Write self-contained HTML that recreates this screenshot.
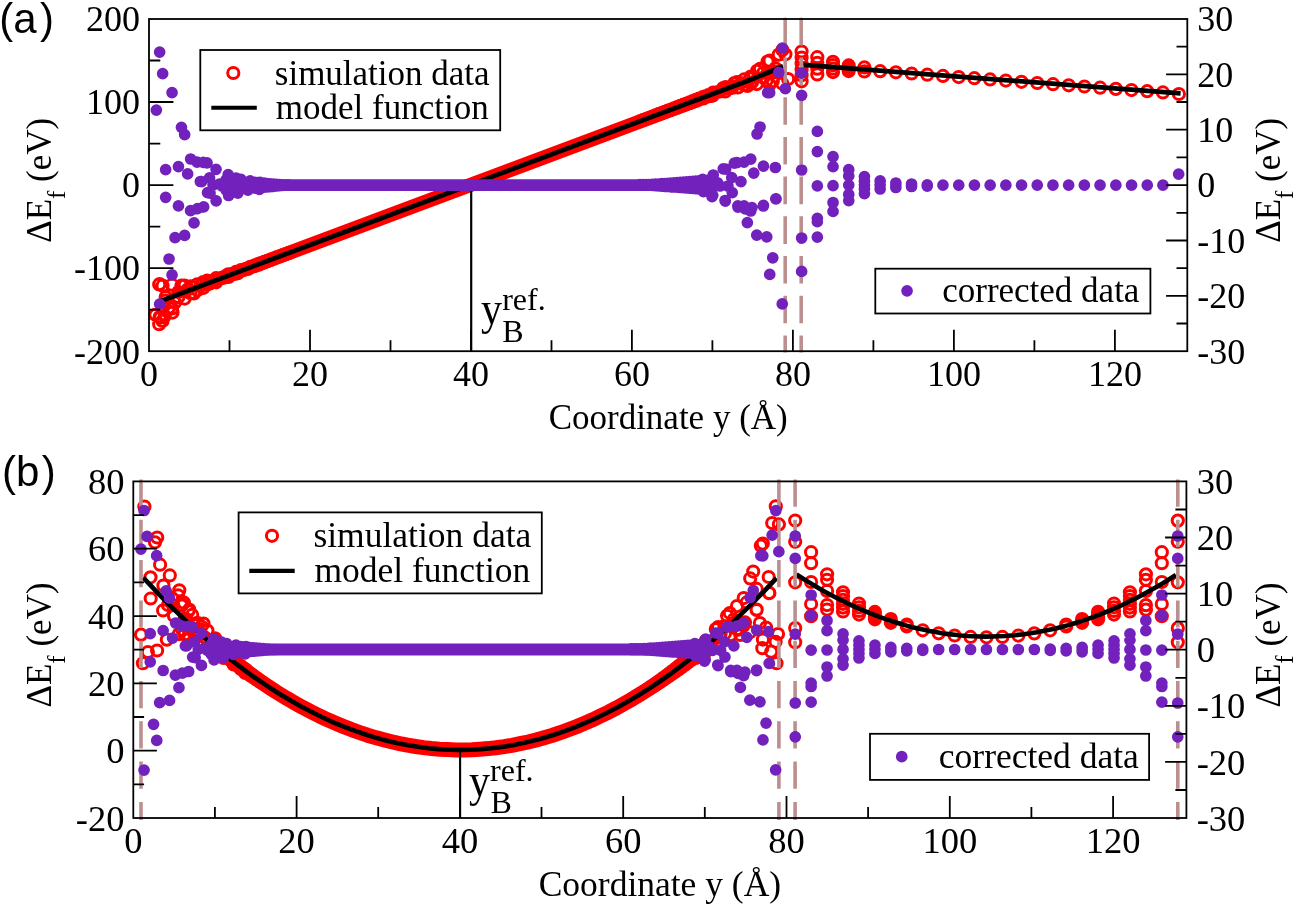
<!DOCTYPE html>
<html><head><meta charset="utf-8"><style>
html,body{margin:0;padding:0;background:#fff;}
svg{display:block;will-change:transform;}
text{font-family:"Liberation Serif",serif;fill:#000;}
.sans{font-family:"Liberation Sans",sans-serif;}
</style></head><body>
<svg width="1295" height="907" viewBox="0 0 1295 907">
<path d="M154 284.1a5.6 5.6 0 1 0 11.2 0a5.6 5.6 0 1 0 -11.2 0M157 285.7a5.6 5.6 0 1 0 11.2 0a5.6 5.6 0 1 0 -11.2 0M166.4 284.7a5.6 5.6 0 1 0 11.2 0a5.6 5.6 0 1 0 -11.2 0M175.8 285.7a5.6 5.6 0 1 0 11.2 0a5.6 5.6 0 1 0 -11.2 0M179 285.5a5.6 5.6 0 1 0 11.2 0a5.6 5.6 0 1 0 -11.2 0M160.1 297.1a5.6 5.6 0 1 0 11.2 0a5.6 5.6 0 1 0 -11.2 0M172.8 292a5.6 5.6 0 1 0 11.2 0a5.6 5.6 0 1 0 -11.2 0M182.1 289.4a5.6 5.6 0 1 0 11.2 0a5.6 5.6 0 1 0 -11.2 0M185.1 286.4a5.6 5.6 0 1 0 11.2 0a5.6 5.6 0 1 0 -11.2 0M191.5 284.4a5.6 5.6 0 1 0 11.2 0a5.6 5.6 0 1 0 -11.2 0M197.7 282.1a5.6 5.6 0 1 0 11.2 0a5.6 5.6 0 1 0 -11.2 0M201.5 280.7a5.6 5.6 0 1 0 11.2 0a5.6 5.6 0 1 0 -11.2 0M210.5 278.2a5.6 5.6 0 1 0 11.2 0a5.6 5.6 0 1 0 -11.2 0M194.7 285.7a5.6 5.6 0 1 0 11.2 0a5.6 5.6 0 1 0 -11.2 0M203.9 281.8a5.6 5.6 0 1 0 11.2 0a5.6 5.6 0 1 0 -11.2 0M201.9 284.5a5.6 5.6 0 1 0 11.2 0a5.6 5.6 0 1 0 -11.2 0M195.9 285.3a5.6 5.6 0 1 0 11.2 0a5.6 5.6 0 1 0 -11.2 0M160.1 300.7a5.6 5.6 0 1 0 11.2 0a5.6 5.6 0 1 0 -11.2 0M172.8 297.1a5.6 5.6 0 1 0 11.2 0a5.6 5.6 0 1 0 -11.2 0M184.9 293.2a5.6 5.6 0 1 0 11.2 0a5.6 5.6 0 1 0 -11.2 0M191.8 290.3a5.6 5.6 0 1 0 11.2 0a5.6 5.6 0 1 0 -11.2 0M198 287.8a5.6 5.6 0 1 0 11.2 0a5.6 5.6 0 1 0 -11.2 0M210.6 282.3a5.6 5.6 0 1 0 11.2 0a5.6 5.6 0 1 0 -11.2 0M204.4 283.6a5.6 5.6 0 1 0 11.2 0a5.6 5.6 0 1 0 -11.2 0M188.4 293.5a5.6 5.6 0 1 0 11.2 0a5.6 5.6 0 1 0 -11.2 0M169.4 302.5a5.6 5.6 0 1 0 11.2 0a5.6 5.6 0 1 0 -11.2 0M179.1 298.6a5.6 5.6 0 1 0 11.2 0a5.6 5.6 0 1 0 -11.2 0M163.4 307.5a5.6 5.6 0 1 0 11.2 0a5.6 5.6 0 1 0 -11.2 0M166.5 308.4a5.6 5.6 0 1 0 11.2 0a5.6 5.6 0 1 0 -11.2 0M154 317a5.6 5.6 0 1 0 11.2 0a5.6 5.6 0 1 0 -11.2 0M222.6 274.3a5.6 5.6 0 1 0 11.2 0a5.6 5.6 0 1 0 -11.2 0M216.8 277.8a5.6 5.6 0 1 0 11.2 0a5.6 5.6 0 1 0 -11.2 0M235.3 270.2a5.6 5.6 0 1 0 11.2 0a5.6 5.6 0 1 0 -11.2 0M244.6 266.9a5.6 5.6 0 1 0 11.2 0a5.6 5.6 0 1 0 -11.2 0M254.6 263.4a5.6 5.6 0 1 0 11.2 0a5.6 5.6 0 1 0 -11.2 0M261.5 261a5.6 5.6 0 1 0 11.2 0a5.6 5.6 0 1 0 -11.2 0M223 276.9a5.6 5.6 0 1 0 11.2 0a5.6 5.6 0 1 0 -11.2 0M232.2 273.2a5.6 5.6 0 1 0 11.2 0a5.6 5.6 0 1 0 -11.2 0M242.3 269a5.6 5.6 0 1 0 11.2 0a5.6 5.6 0 1 0 -11.2 0M253.8 264.6a5.6 5.6 0 1 0 11.2 0a5.6 5.6 0 1 0 -11.2 0M213.9 278.8a5.6 5.6 0 1 0 11.2 0a5.6 5.6 0 1 0 -11.2 0M207.4 281.4a5.6 5.6 0 1 0 11.2 0a5.6 5.6 0 1 0 -11.2 0M228.4 273.6a5.6 5.6 0 1 0 11.2 0a5.6 5.6 0 1 0 -11.2 0M239.4 269.4a5.6 5.6 0 1 0 11.2 0a5.6 5.6 0 1 0 -11.2 0M249.4 265.7a5.6 5.6 0 1 0 11.2 0a5.6 5.6 0 1 0 -11.2 0M216.4 278.1a5.6 5.6 0 1 0 11.2 0a5.6 5.6 0 1 0 -11.2 0M220.4 275.9a5.6 5.6 0 1 0 11.2 0a5.6 5.6 0 1 0 -11.2 0M220.4 277.2a5.6 5.6 0 1 0 11.2 0a5.6 5.6 0 1 0 -11.2 0M226.4 274a5.6 5.6 0 1 0 11.2 0a5.6 5.6 0 1 0 -11.2 0M230.4 271.9a5.6 5.6 0 1 0 11.2 0a5.6 5.6 0 1 0 -11.2 0M230.4 273.7a5.6 5.6 0 1 0 11.2 0a5.6 5.6 0 1 0 -11.2 0M236.4 270.3a5.6 5.6 0 1 0 11.2 0a5.6 5.6 0 1 0 -11.2 0M242.4 268.4a5.6 5.6 0 1 0 11.2 0a5.6 5.6 0 1 0 -11.2 0M751.5 70.8a5.6 5.6 0 1 0 11.2 0a5.6 5.6 0 1 0 -11.2 0M754.5 68.8a5.6 5.6 0 1 0 11.2 0a5.6 5.6 0 1 0 -11.2 0M762 61.5a5.6 5.6 0 1 0 11.2 0a5.6 5.6 0 1 0 -11.2 0M745.1 76.5a5.6 5.6 0 1 0 11.2 0a5.6 5.6 0 1 0 -11.2 0M738.5 79.4a5.6 5.6 0 1 0 11.2 0a5.6 5.6 0 1 0 -11.2 0M731.4 82.1a5.6 5.6 0 1 0 11.2 0a5.6 5.6 0 1 0 -11.2 0M728.8 83.1a5.6 5.6 0 1 0 11.2 0a5.6 5.6 0 1 0 -11.2 0M720 87.2a5.6 5.6 0 1 0 11.2 0a5.6 5.6 0 1 0 -11.2 0M726.1 86a5.6 5.6 0 1 0 11.2 0a5.6 5.6 0 1 0 -11.2 0M735.4 83a5.6 5.6 0 1 0 11.2 0a5.6 5.6 0 1 0 -11.2 0M748.2 77.2a5.6 5.6 0 1 0 11.2 0a5.6 5.6 0 1 0 -11.2 0M757.9 72.6a5.6 5.6 0 1 0 11.2 0a5.6 5.6 0 1 0 -11.2 0M769.8 68.3a5.6 5.6 0 1 0 11.2 0a5.6 5.6 0 1 0 -11.2 0M707.6 92.6a5.6 5.6 0 1 0 11.2 0a5.6 5.6 0 1 0 -11.2 0M697 97.2a5.6 5.6 0 1 0 11.2 0a5.6 5.6 0 1 0 -11.2 0M712 92a5.6 5.6 0 1 0 11.2 0a5.6 5.6 0 1 0 -11.2 0M697.9 98.4a5.6 5.6 0 1 0 11.2 0a5.6 5.6 0 1 0 -11.2 0M707.2 95.4a5.6 5.6 0 1 0 11.2 0a5.6 5.6 0 1 0 -11.2 0M719.5 91.5a5.6 5.6 0 1 0 11.2 0a5.6 5.6 0 1 0 -11.2 0M726.6 87.8a5.6 5.6 0 1 0 11.2 0a5.6 5.6 0 1 0 -11.2 0M732.3 87.4a5.6 5.6 0 1 0 11.2 0a5.6 5.6 0 1 0 -11.2 0M738.5 85a5.6 5.6 0 1 0 11.2 0a5.6 5.6 0 1 0 -11.2 0M746.4 82.3a5.6 5.6 0 1 0 11.2 0a5.6 5.6 0 1 0 -11.2 0M757.9 77.7a5.6 5.6 0 1 0 11.2 0a5.6 5.6 0 1 0 -11.2 0M770.2 72.2a5.6 5.6 0 1 0 11.2 0a5.6 5.6 0 1 0 -11.2 0M770.5 72.1a5.6 5.6 0 1 0 11.2 0a5.6 5.6 0 1 0 -11.2 0M757.8 77.8a5.6 5.6 0 1 0 11.2 0a5.6 5.6 0 1 0 -11.2 0M732.4 87.5a5.6 5.6 0 1 0 11.2 0a5.6 5.6 0 1 0 -11.2 0M739.6 85a5.6 5.6 0 1 0 11.2 0a5.6 5.6 0 1 0 -11.2 0M745.1 83.2a5.6 5.6 0 1 0 11.2 0a5.6 5.6 0 1 0 -11.2 0M719.8 91.4a5.6 5.6 0 1 0 11.2 0a5.6 5.6 0 1 0 -11.2 0M706.5 95.8a5.6 5.6 0 1 0 11.2 0a5.6 5.6 0 1 0 -11.2 0M741.8 86a5.6 5.6 0 1 0 11.2 0a5.6 5.6 0 1 0 -11.2 0M751.2 84.1a5.6 5.6 0 1 0 11.2 0a5.6 5.6 0 1 0 -11.2 0M761.1 80.6a5.6 5.6 0 1 0 11.2 0a5.6 5.6 0 1 0 -11.2 0M767.2 81.1a5.6 5.6 0 1 0 11.2 0a5.6 5.6 0 1 0 -11.2 0M764.1 84.4a5.6 5.6 0 1 0 11.2 0a5.6 5.6 0 1 0 -11.2 0M776.6 83.6a5.6 5.6 0 1 0 11.2 0a5.6 5.6 0 1 0 -11.2 0M776.8 50.1a5.6 5.6 0 1 0 11.2 0a5.6 5.6 0 1 0 -11.2 0M773.2 54.6a5.6 5.6 0 1 0 11.2 0a5.6 5.6 0 1 0 -11.2 0M779.8 54.3a5.6 5.6 0 1 0 11.2 0a5.6 5.6 0 1 0 -11.2 0M764 60.7a5.6 5.6 0 1 0 11.2 0a5.6 5.6 0 1 0 -11.2 0M717.6 88.1a5.6 5.6 0 1 0 11.2 0a5.6 5.6 0 1 0 -11.2 0M714.4 91.5a5.6 5.6 0 1 0 11.2 0a5.6 5.6 0 1 0 -11.2 0M722.4 88.5a5.6 5.6 0 1 0 11.2 0a5.6 5.6 0 1 0 -11.2 0M702.4 96a5.6 5.6 0 1 0 11.2 0a5.6 5.6 0 1 0 -11.2 0M249.4 265.3a5.6 5.6 0 1 0 11.2 0a5.6 5.6 0 1 0 -11.2 0M249.4 266a5.6 5.6 0 1 0 11.2 0a5.6 5.6 0 1 0 -11.2 0M249.4 265.7a5.6 5.6 0 1 0 11.2 0a5.6 5.6 0 1 0 -11.2 0M252.5 264.2a5.6 5.6 0 1 0 11.2 0a5.6 5.6 0 1 0 -11.2 0M252.5 264.8a5.6 5.6 0 1 0 11.2 0a5.6 5.6 0 1 0 -11.2 0M252.5 264.5a5.6 5.6 0 1 0 11.2 0a5.6 5.6 0 1 0 -11.2 0M255.6 263a5.6 5.6 0 1 0 11.2 0a5.6 5.6 0 1 0 -11.2 0M255.6 263.6a5.6 5.6 0 1 0 11.2 0a5.6 5.6 0 1 0 -11.2 0M255.6 263.3a5.6 5.6 0 1 0 11.2 0a5.6 5.6 0 1 0 -11.2 0M258.7 261.9a5.6 5.6 0 1 0 11.2 0a5.6 5.6 0 1 0 -11.2 0M258.7 262.4a5.6 5.6 0 1 0 11.2 0a5.6 5.6 0 1 0 -11.2 0M258.7 262.2a5.6 5.6 0 1 0 11.2 0a5.6 5.6 0 1 0 -11.2 0M261.8 260.8a5.6 5.6 0 1 0 11.2 0a5.6 5.6 0 1 0 -11.2 0M261.8 261.2a5.6 5.6 0 1 0 11.2 0a5.6 5.6 0 1 0 -11.2 0M261.8 261a5.6 5.6 0 1 0 11.2 0a5.6 5.6 0 1 0 -11.2 0M264.9 259.7a5.6 5.6 0 1 0 11.2 0a5.6 5.6 0 1 0 -11.2 0M264.9 260a5.6 5.6 0 1 0 11.2 0a5.6 5.6 0 1 0 -11.2 0M264.9 259.9a5.6 5.6 0 1 0 11.2 0a5.6 5.6 0 1 0 -11.2 0M268 258.6a5.6 5.6 0 1 0 11.2 0a5.6 5.6 0 1 0 -11.2 0M268 258.8a5.6 5.6 0 1 0 11.2 0a5.6 5.6 0 1 0 -11.2 0M268 258.7a5.6 5.6 0 1 0 11.2 0a5.6 5.6 0 1 0 -11.2 0M271.1 257.4a5.6 5.6 0 1 0 11.2 0a5.6 5.6 0 1 0 -11.2 0M271.1 257.6a5.6 5.6 0 1 0 11.2 0a5.6 5.6 0 1 0 -11.2 0M271.1 257.5a5.6 5.6 0 1 0 11.2 0a5.6 5.6 0 1 0 -11.2 0M274.2 256.3a5.6 5.6 0 1 0 11.2 0a5.6 5.6 0 1 0 -11.2 0M274.2 256.4a5.6 5.6 0 1 0 11.2 0a5.6 5.6 0 1 0 -11.2 0M274.2 256.4a5.6 5.6 0 1 0 11.2 0a5.6 5.6 0 1 0 -11.2 0M277.3 255.2a5.6 5.6 0 1 0 11.2 0a5.6 5.6 0 1 0 -11.2 0M277.3 255.2a5.6 5.6 0 1 0 11.2 0a5.6 5.6 0 1 0 -11.2 0M277.3 255.2a5.6 5.6 0 1 0 11.2 0a5.6 5.6 0 1 0 -11.2 0M280.4 254.1a5.6 5.6 0 1 0 11.2 0a5.6 5.6 0 1 0 -11.2 0M280.4 254.1a5.6 5.6 0 1 0 11.2 0a5.6 5.6 0 1 0 -11.2 0M280.4 254.1a5.6 5.6 0 1 0 11.2 0a5.6 5.6 0 1 0 -11.2 0M283.5 252.9a5.6 5.6 0 1 0 11.2 0a5.6 5.6 0 1 0 -11.2 0M283.5 252.9a5.6 5.6 0 1 0 11.2 0a5.6 5.6 0 1 0 -11.2 0M283.5 252.9a5.6 5.6 0 1 0 11.2 0a5.6 5.6 0 1 0 -11.2 0M634.4 121.3a5.6 5.6 0 1 0 11.2 0a5.6 5.6 0 1 0 -11.2 0M634.4 121.4a5.6 5.6 0 1 0 11.2 0a5.6 5.6 0 1 0 -11.2 0M634.4 121.3a5.6 5.6 0 1 0 11.2 0a5.6 5.6 0 1 0 -11.2 0M637.5 120.1a5.6 5.6 0 1 0 11.2 0a5.6 5.6 0 1 0 -11.2 0M637.5 120.2a5.6 5.6 0 1 0 11.2 0a5.6 5.6 0 1 0 -11.2 0M637.5 120.2a5.6 5.6 0 1 0 11.2 0a5.6 5.6 0 1 0 -11.2 0M640.6 119a5.6 5.6 0 1 0 11.2 0a5.6 5.6 0 1 0 -11.2 0M640.6 119a5.6 5.6 0 1 0 11.2 0a5.6 5.6 0 1 0 -11.2 0M640.6 119a5.6 5.6 0 1 0 11.2 0a5.6 5.6 0 1 0 -11.2 0M643.7 117.8a5.6 5.6 0 1 0 11.2 0a5.6 5.6 0 1 0 -11.2 0M643.7 117.9a5.6 5.6 0 1 0 11.2 0a5.6 5.6 0 1 0 -11.2 0M643.7 117.8a5.6 5.6 0 1 0 11.2 0a5.6 5.6 0 1 0 -11.2 0M646.8 116.6a5.6 5.6 0 1 0 11.2 0a5.6 5.6 0 1 0 -11.2 0M646.8 116.7a5.6 5.6 0 1 0 11.2 0a5.6 5.6 0 1 0 -11.2 0M646.8 116.7a5.6 5.6 0 1 0 11.2 0a5.6 5.6 0 1 0 -11.2 0M649.9 115.4a5.6 5.6 0 1 0 11.2 0a5.6 5.6 0 1 0 -11.2 0M649.9 115.6a5.6 5.6 0 1 0 11.2 0a5.6 5.6 0 1 0 -11.2 0M649.9 115.5a5.6 5.6 0 1 0 11.2 0a5.6 5.6 0 1 0 -11.2 0M653 114.2a5.6 5.6 0 1 0 11.2 0a5.6 5.6 0 1 0 -11.2 0M653 114.5a5.6 5.6 0 1 0 11.2 0a5.6 5.6 0 1 0 -11.2 0M653 114.4a5.6 5.6 0 1 0 11.2 0a5.6 5.6 0 1 0 -11.2 0M656.1 113a5.6 5.6 0 1 0 11.2 0a5.6 5.6 0 1 0 -11.2 0M656.1 113.4a5.6 5.6 0 1 0 11.2 0a5.6 5.6 0 1 0 -11.2 0M656.1 113.2a5.6 5.6 0 1 0 11.2 0a5.6 5.6 0 1 0 -11.2 0M659.2 111.9a5.6 5.6 0 1 0 11.2 0a5.6 5.6 0 1 0 -11.2 0M659.2 112.2a5.6 5.6 0 1 0 11.2 0a5.6 5.6 0 1 0 -11.2 0M659.2 112a5.6 5.6 0 1 0 11.2 0a5.6 5.6 0 1 0 -11.2 0M662.3 110.7a5.6 5.6 0 1 0 11.2 0a5.6 5.6 0 1 0 -11.2 0M662.3 111.1a5.6 5.6 0 1 0 11.2 0a5.6 5.6 0 1 0 -11.2 0M662.3 110.9a5.6 5.6 0 1 0 11.2 0a5.6 5.6 0 1 0 -11.2 0M665.4 109.5a5.6 5.6 0 1 0 11.2 0a5.6 5.6 0 1 0 -11.2 0M665.4 110a5.6 5.6 0 1 0 11.2 0a5.6 5.6 0 1 0 -11.2 0M665.4 109.7a5.6 5.6 0 1 0 11.2 0a5.6 5.6 0 1 0 -11.2 0M668.5 108.3a5.6 5.6 0 1 0 11.2 0a5.6 5.6 0 1 0 -11.2 0M668.5 108.8a5.6 5.6 0 1 0 11.2 0a5.6 5.6 0 1 0 -11.2 0M668.5 108.6a5.6 5.6 0 1 0 11.2 0a5.6 5.6 0 1 0 -11.2 0M671.6 107.1a5.6 5.6 0 1 0 11.2 0a5.6 5.6 0 1 0 -11.2 0M671.6 107.7a5.6 5.6 0 1 0 11.2 0a5.6 5.6 0 1 0 -11.2 0M671.6 107.4a5.6 5.6 0 1 0 11.2 0a5.6 5.6 0 1 0 -11.2 0M674.7 105.9a5.6 5.6 0 1 0 11.2 0a5.6 5.6 0 1 0 -11.2 0M674.7 106.6a5.6 5.6 0 1 0 11.2 0a5.6 5.6 0 1 0 -11.2 0M674.7 106.2a5.6 5.6 0 1 0 11.2 0a5.6 5.6 0 1 0 -11.2 0M677.8 104.7a5.6 5.6 0 1 0 11.2 0a5.6 5.6 0 1 0 -11.2 0M677.8 105.4a5.6 5.6 0 1 0 11.2 0a5.6 5.6 0 1 0 -11.2 0M677.8 105.1a5.6 5.6 0 1 0 11.2 0a5.6 5.6 0 1 0 -11.2 0M680.9 103.5a5.6 5.6 0 1 0 11.2 0a5.6 5.6 0 1 0 -11.2 0M680.9 104.3a5.6 5.6 0 1 0 11.2 0a5.6 5.6 0 1 0 -11.2 0M680.9 103.9a5.6 5.6 0 1 0 11.2 0a5.6 5.6 0 1 0 -11.2 0M684 102.3a5.6 5.6 0 1 0 11.2 0a5.6 5.6 0 1 0 -11.2 0M684 103.2a5.6 5.6 0 1 0 11.2 0a5.6 5.6 0 1 0 -11.2 0M684 102.7a5.6 5.6 0 1 0 11.2 0a5.6 5.6 0 1 0 -11.2 0M687.1 101.1a5.6 5.6 0 1 0 11.2 0a5.6 5.6 0 1 0 -11.2 0M687.1 102a5.6 5.6 0 1 0 11.2 0a5.6 5.6 0 1 0 -11.2 0M687.1 101.6a5.6 5.6 0 1 0 11.2 0a5.6 5.6 0 1 0 -11.2 0M690.2 99.9a5.6 5.6 0 1 0 11.2 0a5.6 5.6 0 1 0 -11.2 0M690.2 100.9a5.6 5.6 0 1 0 11.2 0a5.6 5.6 0 1 0 -11.2 0M690.2 100.4a5.6 5.6 0 1 0 11.2 0a5.6 5.6 0 1 0 -11.2 0M693.3 98.7a5.6 5.6 0 1 0 11.2 0a5.6 5.6 0 1 0 -11.2 0M693.3 99.8a5.6 5.6 0 1 0 11.2 0a5.6 5.6 0 1 0 -11.2 0M693.3 99.3a5.6 5.6 0 1 0 11.2 0a5.6 5.6 0 1 0 -11.2 0M696.4 97.5a5.6 5.6 0 1 0 11.2 0a5.6 5.6 0 1 0 -11.2 0M696.4 98.6a5.6 5.6 0 1 0 11.2 0a5.6 5.6 0 1 0 -11.2 0M696.4 98.1a5.6 5.6 0 1 0 11.2 0a5.6 5.6 0 1 0 -11.2 0M699.5 96.4a5.6 5.6 0 1 0 11.2 0a5.6 5.6 0 1 0 -11.2 0M699.5 97.5a5.6 5.6 0 1 0 11.2 0a5.6 5.6 0 1 0 -11.2 0M699.5 96.9a5.6 5.6 0 1 0 11.2 0a5.6 5.6 0 1 0 -11.2 0M702.6 95.2a5.6 5.6 0 1 0 11.2 0a5.6 5.6 0 1 0 -11.2 0M702.6 96.4a5.6 5.6 0 1 0 11.2 0a5.6 5.6 0 1 0 -11.2 0M702.6 95.8a5.6 5.6 0 1 0 11.2 0a5.6 5.6 0 1 0 -11.2 0M705.7 94a5.6 5.6 0 1 0 11.2 0a5.6 5.6 0 1 0 -11.2 0M705.7 95.2a5.6 5.6 0 1 0 11.2 0a5.6 5.6 0 1 0 -11.2 0M705.7 94.6a5.6 5.6 0 1 0 11.2 0a5.6 5.6 0 1 0 -11.2 0M796 51.5a5.6 5.6 0 1 0 11.2 0a5.6 5.6 0 1 0 -11.2 0M796 57.5a5.6 5.6 0 1 0 11.2 0a5.6 5.6 0 1 0 -11.2 0M796 63.4a5.6 5.6 0 1 0 11.2 0a5.6 5.6 0 1 0 -11.2 0M796 69.4a5.6 5.6 0 1 0 11.2 0a5.6 5.6 0 1 0 -11.2 0M796 75.3a5.6 5.6 0 1 0 11.2 0a5.6 5.6 0 1 0 -11.2 0M796 81.3a5.6 5.6 0 1 0 11.2 0a5.6 5.6 0 1 0 -11.2 0M811.7 57.2a5.6 5.6 0 1 0 11.2 0a5.6 5.6 0 1 0 -11.2 0M811.7 62.9a5.6 5.6 0 1 0 11.2 0a5.6 5.6 0 1 0 -11.2 0M811.7 68.7a5.6 5.6 0 1 0 11.2 0a5.6 5.6 0 1 0 -11.2 0M811.7 74.4a5.6 5.6 0 1 0 11.2 0a5.6 5.6 0 1 0 -11.2 0M827.4 61.8a5.6 5.6 0 1 0 11.2 0a5.6 5.6 0 1 0 -11.2 0M827.4 65.2a5.6 5.6 0 1 0 11.2 0a5.6 5.6 0 1 0 -11.2 0M827.4 68.7a5.6 5.6 0 1 0 11.2 0a5.6 5.6 0 1 0 -11.2 0M827.4 72.1a5.6 5.6 0 1 0 11.2 0a5.6 5.6 0 1 0 -11.2 0M843.1 65.4a5.6 5.6 0 1 0 11.2 0a5.6 5.6 0 1 0 -11.2 0M843.1 68.2a5.6 5.6 0 1 0 11.2 0a5.6 5.6 0 1 0 -11.2 0M843.1 71.1a5.6 5.6 0 1 0 11.2 0a5.6 5.6 0 1 0 -11.2 0M858.8 67.4a5.6 5.6 0 1 0 11.2 0a5.6 5.6 0 1 0 -11.2 0M858.8 71.4a5.6 5.6 0 1 0 11.2 0a5.6 5.6 0 1 0 -11.2 0M874.6 71.2a5.6 5.6 0 1 0 11.2 0a5.6 5.6 0 1 0 -11.2 0M890.3 72.3a5.6 5.6 0 1 0 11.2 0a5.6 5.6 0 1 0 -11.2 0M906 73.5a5.6 5.6 0 1 0 11.2 0a5.6 5.6 0 1 0 -11.2 0M921.7 74.7a5.6 5.6 0 1 0 11.2 0a5.6 5.6 0 1 0 -11.2 0M937.4 75.9a5.6 5.6 0 1 0 11.2 0a5.6 5.6 0 1 0 -11.2 0M953.1 77.1a5.6 5.6 0 1 0 11.2 0a5.6 5.6 0 1 0 -11.2 0M968.8 78.2a5.6 5.6 0 1 0 11.2 0a5.6 5.6 0 1 0 -11.2 0M984.5 79.4a5.6 5.6 0 1 0 11.2 0a5.6 5.6 0 1 0 -11.2 0M1000.2 80.6a5.6 5.6 0 1 0 11.2 0a5.6 5.6 0 1 0 -11.2 0M1015.9 81.8a5.6 5.6 0 1 0 11.2 0a5.6 5.6 0 1 0 -11.2 0M1031.7 83a5.6 5.6 0 1 0 11.2 0a5.6 5.6 0 1 0 -11.2 0M1047.4 84.2a5.6 5.6 0 1 0 11.2 0a5.6 5.6 0 1 0 -11.2 0M1063.1 85.3a5.6 5.6 0 1 0 11.2 0a5.6 5.6 0 1 0 -11.2 0M1078.8 86.5a5.6 5.6 0 1 0 11.2 0a5.6 5.6 0 1 0 -11.2 0M1094.5 87.7a5.6 5.6 0 1 0 11.2 0a5.6 5.6 0 1 0 -11.2 0M1110.2 88.9a5.6 5.6 0 1 0 11.2 0a5.6 5.6 0 1 0 -11.2 0M1125.9 90.1a5.6 5.6 0 1 0 11.2 0a5.6 5.6 0 1 0 -11.2 0M1141.6 91.2a5.6 5.6 0 1 0 11.2 0a5.6 5.6 0 1 0 -11.2 0M1157.3 92.4a5.6 5.6 0 1 0 11.2 0a5.6 5.6 0 1 0 -11.2 0M1173.3 94a5.6 5.6 0 1 0 11.2 0a5.6 5.6 0 1 0 -11.2 0M149.8 314.8a5.6 5.6 0 1 0 11.2 0a5.6 5.6 0 1 0 -11.2 0M154.7 317.6a5.6 5.6 0 1 0 11.2 0a5.6 5.6 0 1 0 -11.2 0M153.6 324.2a5.6 5.6 0 1 0 11.2 0a5.6 5.6 0 1 0 -11.2 0M156.9 320.9a5.6 5.6 0 1 0 11.2 0a5.6 5.6 0 1 0 -11.2 0M159.1 315.9a5.6 5.6 0 1 0 11.2 0a5.6 5.6 0 1 0 -11.2 0M166.9 312.6a5.6 5.6 0 1 0 11.2 0a5.6 5.6 0 1 0 -11.2 0M153.6 284.5a5.6 5.6 0 1 0 11.2 0a5.6 5.6 0 1 0 -11.2 0M782.5 79a5.6 5.6 0 1 0 11.2 0a5.6 5.6 0 1 0 -11.2 0" fill="none" stroke="#ff0000" stroke-width="3.0"/>
<path d="M221.4 278.2 L696.3 100.3" fill="none" stroke="#ff0000" stroke-width="14.2" stroke-linecap="round" stroke-linejoin="round"/>
<path d="M159.6 301.4 L750 80.1 L783.1 66.3" fill="none" stroke="#000" stroke-width="4.8"/>
<path d="M803.6 64.9 L1180.6 93.3" fill="none" stroke="#000" stroke-width="4.8"/>
<line x1="471.2" y1="185.1" x2="471.2" y2="351.2" stroke="#000" stroke-width="2.2"/>
<line x1="785.2" y1="17.8" x2="785.2" y2="352.5" stroke="#bc8f8f" stroke-width="3.6" stroke-dasharray="27.6 12.1"/>
<line x1="801.2" y1="17.8" x2="801.2" y2="352.5" stroke="#bc8f8f" stroke-width="3.6" stroke-dasharray="27.6 12.1"/>
<line x1="257.7" y1="185.2" x2="656.1" y2="185.2" stroke="#7221bc" stroke-width="11.8" stroke-linecap="round"/>
<path d="M153.8 52.1a5.85 5.85 0 1 0 11.7 0a5.85 5.85 0 1 0 -11.7 0M156.8 73.6a5.85 5.85 0 1 0 11.7 0a5.85 5.85 0 1 0 -11.7 0M166.2 92.6a5.85 5.85 0 1 0 11.7 0a5.85 5.85 0 1 0 -11.7 0M150.5 110.1a5.85 5.85 0 1 0 11.7 0a5.85 5.85 0 1 0 -11.7 0M175.6 127.3a5.85 5.85 0 1 0 11.7 0a5.85 5.85 0 1 0 -11.7 0M178.8 134.6a5.85 5.85 0 1 0 11.7 0a5.85 5.85 0 1 0 -11.7 0M159.8 169.6a5.85 5.85 0 1 0 11.7 0a5.85 5.85 0 1 0 -11.7 0M172.6 166.6a5.85 5.85 0 1 0 11.7 0a5.85 5.85 0 1 0 -11.7 0M181.8 173.9a5.85 5.85 0 1 0 11.7 0a5.85 5.85 0 1 0 -11.7 0M184.8 159a5.85 5.85 0 1 0 11.7 0a5.85 5.85 0 1 0 -11.7 0M191.2 162.1a5.85 5.85 0 1 0 11.7 0a5.85 5.85 0 1 0 -11.7 0M197.5 162.4a5.85 5.85 0 1 0 11.7 0a5.85 5.85 0 1 0 -11.7 0M201.2 162.8a5.85 5.85 0 1 0 11.7 0a5.85 5.85 0 1 0 -11.7 0M210.2 169.3a5.85 5.85 0 1 0 11.7 0a5.85 5.85 0 1 0 -11.7 0M194.5 181.5a5.85 5.85 0 1 0 11.7 0a5.85 5.85 0 1 0 -11.7 0M203.7 177.8a5.85 5.85 0 1 0 11.7 0a5.85 5.85 0 1 0 -11.7 0M201.7 192.7a5.85 5.85 0 1 0 11.7 0a5.85 5.85 0 1 0 -11.7 0M195.7 181.6a5.85 5.85 0 1 0 11.7 0a5.85 5.85 0 1 0 -11.7 0M159.8 197.3a5.85 5.85 0 1 0 11.7 0a5.85 5.85 0 1 0 -11.7 0M172.6 205.9a5.85 5.85 0 1 0 11.7 0a5.85 5.85 0 1 0 -11.7 0M184.7 210.6a5.85 5.85 0 1 0 11.7 0a5.85 5.85 0 1 0 -11.7 0M191.6 208.6a5.85 5.85 0 1 0 11.7 0a5.85 5.85 0 1 0 -11.7 0M197.8 206.9a5.85 5.85 0 1 0 11.7 0a5.85 5.85 0 1 0 -11.7 0M210.3 200.9a5.85 5.85 0 1 0 11.7 0a5.85 5.85 0 1 0 -11.7 0M204.2 193.2a5.85 5.85 0 1 0 11.7 0a5.85 5.85 0 1 0 -11.7 0M188.2 222.9a5.85 5.85 0 1 0 11.7 0a5.85 5.85 0 1 0 -11.7 0M169.2 237.7a5.85 5.85 0 1 0 11.7 0a5.85 5.85 0 1 0 -11.7 0M178.8 235.4a5.85 5.85 0 1 0 11.7 0a5.85 5.85 0 1 0 -11.7 0M163.2 259a5.85 5.85 0 1 0 11.7 0a5.85 5.85 0 1 0 -11.7 0M166.2 274.9a5.85 5.85 0 1 0 11.7 0a5.85 5.85 0 1 0 -11.7 0M153.8 304.2a5.85 5.85 0 1 0 11.7 0a5.85 5.85 0 1 0 -11.7 0M222.3 174.7a5.85 5.85 0 1 0 11.7 0a5.85 5.85 0 1 0 -11.7 0M216.6 184.7a5.85 5.85 0 1 0 11.7 0a5.85 5.85 0 1 0 -11.7 0M235.1 179.3a5.85 5.85 0 1 0 11.7 0a5.85 5.85 0 1 0 -11.7 0M244.3 180.9a5.85 5.85 0 1 0 11.7 0a5.85 5.85 0 1 0 -11.7 0M254.3 182.4a5.85 5.85 0 1 0 11.7 0a5.85 5.85 0 1 0 -11.7 0M261.2 184a5.85 5.85 0 1 0 11.7 0a5.85 5.85 0 1 0 -11.7 0M222.8 195.5a5.85 5.85 0 1 0 11.7 0a5.85 5.85 0 1 0 -11.7 0M232 193.2a5.85 5.85 0 1 0 11.7 0a5.85 5.85 0 1 0 -11.7 0M242.1 190.1a5.85 5.85 0 1 0 11.7 0a5.85 5.85 0 1 0 -11.7 0M253.5 189.4a5.85 5.85 0 1 0 11.7 0a5.85 5.85 0 1 0 -11.7 0M213.7 184a5.85 5.85 0 1 0 11.7 0a5.85 5.85 0 1 0 -11.7 0M207.2 185a5.85 5.85 0 1 0 11.7 0a5.85 5.85 0 1 0 -11.7 0M228.2 186a5.85 5.85 0 1 0 11.7 0a5.85 5.85 0 1 0 -11.7 0M239.2 185a5.85 5.85 0 1 0 11.7 0a5.85 5.85 0 1 0 -11.7 0M249.2 185.5a5.85 5.85 0 1 0 11.7 0a5.85 5.85 0 1 0 -11.7 0M216.2 186a5.85 5.85 0 1 0 11.7 0a5.85 5.85 0 1 0 -11.7 0M220.2 180a5.85 5.85 0 1 0 11.7 0a5.85 5.85 0 1 0 -11.7 0M220.2 190a5.85 5.85 0 1 0 11.7 0a5.85 5.85 0 1 0 -11.7 0M226.2 183a5.85 5.85 0 1 0 11.7 0a5.85 5.85 0 1 0 -11.7 0M230.2 178a5.85 5.85 0 1 0 11.7 0a5.85 5.85 0 1 0 -11.7 0M230.2 192a5.85 5.85 0 1 0 11.7 0a5.85 5.85 0 1 0 -11.7 0M236.2 183a5.85 5.85 0 1 0 11.7 0a5.85 5.85 0 1 0 -11.7 0M242.2 186a5.85 5.85 0 1 0 11.7 0a5.85 5.85 0 1 0 -11.7 0M751.2 134a5.85 5.85 0 1 0 11.7 0a5.85 5.85 0 1 0 -11.7 0M754.2 127a5.85 5.85 0 1 0 11.7 0a5.85 5.85 0 1 0 -11.7 0M761.8 92.6a5.85 5.85 0 1 0 11.7 0a5.85 5.85 0 1 0 -11.7 0M744.9 159.1a5.85 5.85 0 1 0 11.7 0a5.85 5.85 0 1 0 -11.7 0M738.2 162.2a5.85 5.85 0 1 0 11.7 0a5.85 5.85 0 1 0 -11.7 0M731.1 162.6a5.85 5.85 0 1 0 11.7 0a5.85 5.85 0 1 0 -11.7 0M728.5 163.1a5.85 5.85 0 1 0 11.7 0a5.85 5.85 0 1 0 -11.7 0M719.8 169.2a5.85 5.85 0 1 0 11.7 0a5.85 5.85 0 1 0 -11.7 0M725.9 177.6a5.85 5.85 0 1 0 11.7 0a5.85 5.85 0 1 0 -11.7 0M735.1 181.6a5.85 5.85 0 1 0 11.7 0a5.85 5.85 0 1 0 -11.7 0M747.9 173.2a5.85 5.85 0 1 0 11.7 0a5.85 5.85 0 1 0 -11.7 0M757.6 166.2a5.85 5.85 0 1 0 11.7 0a5.85 5.85 0 1 0 -11.7 0M769.5 167.5a5.85 5.85 0 1 0 11.7 0a5.85 5.85 0 1 0 -11.7 0M707.4 175a5.85 5.85 0 1 0 11.7 0a5.85 5.85 0 1 0 -11.7 0M696.8 179.4a5.85 5.85 0 1 0 11.7 0a5.85 5.85 0 1 0 -11.7 0M711.8 182.9a5.85 5.85 0 1 0 11.7 0a5.85 5.85 0 1 0 -11.7 0M697.6 191.7a5.85 5.85 0 1 0 11.7 0a5.85 5.85 0 1 0 -11.7 0M706.9 195.3a5.85 5.85 0 1 0 11.7 0a5.85 5.85 0 1 0 -11.7 0M719.2 200.5a5.85 5.85 0 1 0 11.7 0a5.85 5.85 0 1 0 -11.7 0M726.4 192.6a5.85 5.85 0 1 0 11.7 0a5.85 5.85 0 1 0 -11.7 0M732 205.8a5.85 5.85 0 1 0 11.7 0a5.85 5.85 0 1 0 -11.7 0M738.2 205.8a5.85 5.85 0 1 0 11.7 0a5.85 5.85 0 1 0 -11.7 0M746.1 207.6a5.85 5.85 0 1 0 11.7 0a5.85 5.85 0 1 0 -11.7 0M757.6 205.4a5.85 5.85 0 1 0 11.7 0a5.85 5.85 0 1 0 -11.7 0M769.9 198.8a5.85 5.85 0 1 0 11.7 0a5.85 5.85 0 1 0 -11.7 0M770.2 198.9a5.85 5.85 0 1 0 11.7 0a5.85 5.85 0 1 0 -11.7 0M757.5 206a5.85 5.85 0 1 0 11.7 0a5.85 5.85 0 1 0 -11.7 0M732.1 207.1a5.85 5.85 0 1 0 11.7 0a5.85 5.85 0 1 0 -11.7 0M739.4 208.8a5.85 5.85 0 1 0 11.7 0a5.85 5.85 0 1 0 -11.7 0M744.9 211a5.85 5.85 0 1 0 11.7 0a5.85 5.85 0 1 0 -11.7 0M719.5 201.1a5.85 5.85 0 1 0 11.7 0a5.85 5.85 0 1 0 -11.7 0M706.2 196.7a5.85 5.85 0 1 0 11.7 0a5.85 5.85 0 1 0 -11.7 0M741.5 222.6a5.85 5.85 0 1 0 11.7 0a5.85 5.85 0 1 0 -11.7 0M750.9 235.2a5.85 5.85 0 1 0 11.7 0a5.85 5.85 0 1 0 -11.7 0M760.9 236.9a5.85 5.85 0 1 0 11.7 0a5.85 5.85 0 1 0 -11.7 0M766.9 257.8a5.85 5.85 0 1 0 11.7 0a5.85 5.85 0 1 0 -11.7 0M763.9 274.4a5.85 5.85 0 1 0 11.7 0a5.85 5.85 0 1 0 -11.7 0M776.4 303.9a5.85 5.85 0 1 0 11.7 0a5.85 5.85 0 1 0 -11.7 0M776.5 48.1a5.85 5.85 0 1 0 11.7 0a5.85 5.85 0 1 0 -11.7 0M772.9 72.4a5.85 5.85 0 1 0 11.7 0a5.85 5.85 0 1 0 -11.7 0M779.5 88.7a5.85 5.85 0 1 0 11.7 0a5.85 5.85 0 1 0 -11.7 0M763.8 92.7a5.85 5.85 0 1 0 11.7 0a5.85 5.85 0 1 0 -11.7 0M717.4 168.9a5.85 5.85 0 1 0 11.7 0a5.85 5.85 0 1 0 -11.7 0M714.1 186a5.85 5.85 0 1 0 11.7 0a5.85 5.85 0 1 0 -11.7 0M722.1 186a5.85 5.85 0 1 0 11.7 0a5.85 5.85 0 1 0 -11.7 0M702.1 186a5.85 5.85 0 1 0 11.7 0a5.85 5.85 0 1 0 -11.7 0M249.2 182.3a5.85 5.85 0 1 0 11.7 0a5.85 5.85 0 1 0 -11.7 0M249.2 188.1a5.85 5.85 0 1 0 11.7 0a5.85 5.85 0 1 0 -11.7 0M249.2 185.2a5.85 5.85 0 1 0 11.7 0a5.85 5.85 0 1 0 -11.7 0M252.3 182.6a5.85 5.85 0 1 0 11.7 0a5.85 5.85 0 1 0 -11.7 0M252.3 187.8a5.85 5.85 0 1 0 11.7 0a5.85 5.85 0 1 0 -11.7 0M252.3 185.2a5.85 5.85 0 1 0 11.7 0a5.85 5.85 0 1 0 -11.7 0M255.3 182.9a5.85 5.85 0 1 0 11.7 0a5.85 5.85 0 1 0 -11.7 0M255.3 187.5a5.85 5.85 0 1 0 11.7 0a5.85 5.85 0 1 0 -11.7 0M255.3 185.2a5.85 5.85 0 1 0 11.7 0a5.85 5.85 0 1 0 -11.7 0M258.4 183.2a5.85 5.85 0 1 0 11.7 0a5.85 5.85 0 1 0 -11.7 0M258.4 187.2a5.85 5.85 0 1 0 11.7 0a5.85 5.85 0 1 0 -11.7 0M258.4 185.2a5.85 5.85 0 1 0 11.7 0a5.85 5.85 0 1 0 -11.7 0M261.5 183.5a5.85 5.85 0 1 0 11.7 0a5.85 5.85 0 1 0 -11.7 0M261.5 186.9a5.85 5.85 0 1 0 11.7 0a5.85 5.85 0 1 0 -11.7 0M261.5 185.2a5.85 5.85 0 1 0 11.7 0a5.85 5.85 0 1 0 -11.7 0M264.6 183.8a5.85 5.85 0 1 0 11.7 0a5.85 5.85 0 1 0 -11.7 0M264.6 186.6a5.85 5.85 0 1 0 11.7 0a5.85 5.85 0 1 0 -11.7 0M264.6 185.2a5.85 5.85 0 1 0 11.7 0a5.85 5.85 0 1 0 -11.7 0M267.8 184.1a5.85 5.85 0 1 0 11.7 0a5.85 5.85 0 1 0 -11.7 0M267.8 186.3a5.85 5.85 0 1 0 11.7 0a5.85 5.85 0 1 0 -11.7 0M267.8 185.2a5.85 5.85 0 1 0 11.7 0a5.85 5.85 0 1 0 -11.7 0M270.8 184.4a5.85 5.85 0 1 0 11.7 0a5.85 5.85 0 1 0 -11.7 0M270.8 186a5.85 5.85 0 1 0 11.7 0a5.85 5.85 0 1 0 -11.7 0M270.8 185.2a5.85 5.85 0 1 0 11.7 0a5.85 5.85 0 1 0 -11.7 0M273.9 184.7a5.85 5.85 0 1 0 11.7 0a5.85 5.85 0 1 0 -11.7 0M273.9 185.7a5.85 5.85 0 1 0 11.7 0a5.85 5.85 0 1 0 -11.7 0M273.9 185.2a5.85 5.85 0 1 0 11.7 0a5.85 5.85 0 1 0 -11.7 0M277 185a5.85 5.85 0 1 0 11.7 0a5.85 5.85 0 1 0 -11.7 0M277 185.4a5.85 5.85 0 1 0 11.7 0a5.85 5.85 0 1 0 -11.7 0M277 185.2a5.85 5.85 0 1 0 11.7 0a5.85 5.85 0 1 0 -11.7 0M280.1 185.2a5.85 5.85 0 1 0 11.7 0a5.85 5.85 0 1 0 -11.7 0M280.1 185.2a5.85 5.85 0 1 0 11.7 0a5.85 5.85 0 1 0 -11.7 0M280.1 185.2a5.85 5.85 0 1 0 11.7 0a5.85 5.85 0 1 0 -11.7 0M283.2 185.2a5.85 5.85 0 1 0 11.7 0a5.85 5.85 0 1 0 -11.7 0M283.2 185.2a5.85 5.85 0 1 0 11.7 0a5.85 5.85 0 1 0 -11.7 0M283.2 185.2a5.85 5.85 0 1 0 11.7 0a5.85 5.85 0 1 0 -11.7 0M634.1 184.6a5.85 5.85 0 1 0 11.7 0a5.85 5.85 0 1 0 -11.7 0M634.1 185.2a5.85 5.85 0 1 0 11.7 0a5.85 5.85 0 1 0 -11.7 0M634.1 184.9a5.85 5.85 0 1 0 11.7 0a5.85 5.85 0 1 0 -11.7 0M637.2 184.6a5.85 5.85 0 1 0 11.7 0a5.85 5.85 0 1 0 -11.7 0M637.2 185.2a5.85 5.85 0 1 0 11.7 0a5.85 5.85 0 1 0 -11.7 0M637.2 184.9a5.85 5.85 0 1 0 11.7 0a5.85 5.85 0 1 0 -11.7 0M640.4 184.6a5.85 5.85 0 1 0 11.7 0a5.85 5.85 0 1 0 -11.7 0M640.4 185.2a5.85 5.85 0 1 0 11.7 0a5.85 5.85 0 1 0 -11.7 0M640.4 184.9a5.85 5.85 0 1 0 11.7 0a5.85 5.85 0 1 0 -11.7 0M643.4 184.6a5.85 5.85 0 1 0 11.7 0a5.85 5.85 0 1 0 -11.7 0M643.4 185.2a5.85 5.85 0 1 0 11.7 0a5.85 5.85 0 1 0 -11.7 0M643.4 184.9a5.85 5.85 0 1 0 11.7 0a5.85 5.85 0 1 0 -11.7 0M646.5 184.4a5.85 5.85 0 1 0 11.7 0a5.85 5.85 0 1 0 -11.7 0M646.5 185.4a5.85 5.85 0 1 0 11.7 0a5.85 5.85 0 1 0 -11.7 0M646.5 184.9a5.85 5.85 0 1 0 11.7 0a5.85 5.85 0 1 0 -11.7 0M649.6 184.2a5.85 5.85 0 1 0 11.7 0a5.85 5.85 0 1 0 -11.7 0M649.6 185.6a5.85 5.85 0 1 0 11.7 0a5.85 5.85 0 1 0 -11.7 0M649.6 184.9a5.85 5.85 0 1 0 11.7 0a5.85 5.85 0 1 0 -11.7 0M652.8 184a5.85 5.85 0 1 0 11.7 0a5.85 5.85 0 1 0 -11.7 0M652.8 185.8a5.85 5.85 0 1 0 11.7 0a5.85 5.85 0 1 0 -11.7 0M652.8 184.9a5.85 5.85 0 1 0 11.7 0a5.85 5.85 0 1 0 -11.7 0M655.9 183.7a5.85 5.85 0 1 0 11.7 0a5.85 5.85 0 1 0 -11.7 0M655.9 186.1a5.85 5.85 0 1 0 11.7 0a5.85 5.85 0 1 0 -11.7 0M655.9 184.9a5.85 5.85 0 1 0 11.7 0a5.85 5.85 0 1 0 -11.7 0M658.9 183.5a5.85 5.85 0 1 0 11.7 0a5.85 5.85 0 1 0 -11.7 0M658.9 186.3a5.85 5.85 0 1 0 11.7 0a5.85 5.85 0 1 0 -11.7 0M658.9 184.9a5.85 5.85 0 1 0 11.7 0a5.85 5.85 0 1 0 -11.7 0M662 183.3a5.85 5.85 0 1 0 11.7 0a5.85 5.85 0 1 0 -11.7 0M662 186.5a5.85 5.85 0 1 0 11.7 0a5.85 5.85 0 1 0 -11.7 0M662 184.9a5.85 5.85 0 1 0 11.7 0a5.85 5.85 0 1 0 -11.7 0M665.1 183a5.85 5.85 0 1 0 11.7 0a5.85 5.85 0 1 0 -11.7 0M665.1 186.8a5.85 5.85 0 1 0 11.7 0a5.85 5.85 0 1 0 -11.7 0M665.1 184.9a5.85 5.85 0 1 0 11.7 0a5.85 5.85 0 1 0 -11.7 0M668.2 182.8a5.85 5.85 0 1 0 11.7 0a5.85 5.85 0 1 0 -11.7 0M668.2 187a5.85 5.85 0 1 0 11.7 0a5.85 5.85 0 1 0 -11.7 0M668.2 184.9a5.85 5.85 0 1 0 11.7 0a5.85 5.85 0 1 0 -11.7 0M671.4 182.6a5.85 5.85 0 1 0 11.7 0a5.85 5.85 0 1 0 -11.7 0M671.4 187.2a5.85 5.85 0 1 0 11.7 0a5.85 5.85 0 1 0 -11.7 0M671.4 184.9a5.85 5.85 0 1 0 11.7 0a5.85 5.85 0 1 0 -11.7 0M674.4 182.3a5.85 5.85 0 1 0 11.7 0a5.85 5.85 0 1 0 -11.7 0M674.4 187.5a5.85 5.85 0 1 0 11.7 0a5.85 5.85 0 1 0 -11.7 0M674.4 184.9a5.85 5.85 0 1 0 11.7 0a5.85 5.85 0 1 0 -11.7 0M677.5 182.1a5.85 5.85 0 1 0 11.7 0a5.85 5.85 0 1 0 -11.7 0M677.5 187.7a5.85 5.85 0 1 0 11.7 0a5.85 5.85 0 1 0 -11.7 0M677.5 184.9a5.85 5.85 0 1 0 11.7 0a5.85 5.85 0 1 0 -11.7 0M680.6 181.9a5.85 5.85 0 1 0 11.7 0a5.85 5.85 0 1 0 -11.7 0M680.6 187.9a5.85 5.85 0 1 0 11.7 0a5.85 5.85 0 1 0 -11.7 0M680.6 184.9a5.85 5.85 0 1 0 11.7 0a5.85 5.85 0 1 0 -11.7 0M683.8 181.6a5.85 5.85 0 1 0 11.7 0a5.85 5.85 0 1 0 -11.7 0M683.8 188.2a5.85 5.85 0 1 0 11.7 0a5.85 5.85 0 1 0 -11.7 0M683.8 184.9a5.85 5.85 0 1 0 11.7 0a5.85 5.85 0 1 0 -11.7 0M686.9 181.4a5.85 5.85 0 1 0 11.7 0a5.85 5.85 0 1 0 -11.7 0M686.9 188.4a5.85 5.85 0 1 0 11.7 0a5.85 5.85 0 1 0 -11.7 0M686.9 184.9a5.85 5.85 0 1 0 11.7 0a5.85 5.85 0 1 0 -11.7 0M689.9 181.2a5.85 5.85 0 1 0 11.7 0a5.85 5.85 0 1 0 -11.7 0M689.9 188.6a5.85 5.85 0 1 0 11.7 0a5.85 5.85 0 1 0 -11.7 0M689.9 184.9a5.85 5.85 0 1 0 11.7 0a5.85 5.85 0 1 0 -11.7 0M693 180.9a5.85 5.85 0 1 0 11.7 0a5.85 5.85 0 1 0 -11.7 0M693 188.9a5.85 5.85 0 1 0 11.7 0a5.85 5.85 0 1 0 -11.7 0M693 184.9a5.85 5.85 0 1 0 11.7 0a5.85 5.85 0 1 0 -11.7 0M696.1 180.7a5.85 5.85 0 1 0 11.7 0a5.85 5.85 0 1 0 -11.7 0M696.1 189.1a5.85 5.85 0 1 0 11.7 0a5.85 5.85 0 1 0 -11.7 0M696.1 184.9a5.85 5.85 0 1 0 11.7 0a5.85 5.85 0 1 0 -11.7 0M699.2 180.5a5.85 5.85 0 1 0 11.7 0a5.85 5.85 0 1 0 -11.7 0M699.2 189.3a5.85 5.85 0 1 0 11.7 0a5.85 5.85 0 1 0 -11.7 0M699.2 184.9a5.85 5.85 0 1 0 11.7 0a5.85 5.85 0 1 0 -11.7 0M702.4 180.2a5.85 5.85 0 1 0 11.7 0a5.85 5.85 0 1 0 -11.7 0M702.4 189.6a5.85 5.85 0 1 0 11.7 0a5.85 5.85 0 1 0 -11.7 0M702.4 184.9a5.85 5.85 0 1 0 11.7 0a5.85 5.85 0 1 0 -11.7 0M705.4 180a5.85 5.85 0 1 0 11.7 0a5.85 5.85 0 1 0 -11.7 0M705.4 189.8a5.85 5.85 0 1 0 11.7 0a5.85 5.85 0 1 0 -11.7 0M705.4 184.9a5.85 5.85 0 1 0 11.7 0a5.85 5.85 0 1 0 -11.7 0M795.8 73.2a5.85 5.85 0 1 0 11.7 0a5.85 5.85 0 1 0 -11.7 0M795.8 95.3a5.85 5.85 0 1 0 11.7 0a5.85 5.85 0 1 0 -11.7 0M795.8 170a5.85 5.85 0 1 0 11.7 0a5.85 5.85 0 1 0 -11.7 0M795.8 238a5.85 5.85 0 1 0 11.7 0a5.85 5.85 0 1 0 -11.7 0M795.8 271.4a5.85 5.85 0 1 0 11.7 0a5.85 5.85 0 1 0 -11.7 0M811.5 131.4a5.85 5.85 0 1 0 11.7 0a5.85 5.85 0 1 0 -11.7 0M811.5 151.6a5.85 5.85 0 1 0 11.7 0a5.85 5.85 0 1 0 -11.7 0M811.5 185.9a5.85 5.85 0 1 0 11.7 0a5.85 5.85 0 1 0 -11.7 0M811.5 218.4a5.85 5.85 0 1 0 11.7 0a5.85 5.85 0 1 0 -11.7 0M811.5 221.7a5.85 5.85 0 1 0 11.7 0a5.85 5.85 0 1 0 -11.7 0M811.5 237.2a5.85 5.85 0 1 0 11.7 0a5.85 5.85 0 1 0 -11.7 0M827.2 156.6a5.85 5.85 0 1 0 11.7 0a5.85 5.85 0 1 0 -11.7 0M827.2 166.6a5.85 5.85 0 1 0 11.7 0a5.85 5.85 0 1 0 -11.7 0M827.2 185.7a5.85 5.85 0 1 0 11.7 0a5.85 5.85 0 1 0 -11.7 0M827.2 202.5a5.85 5.85 0 1 0 11.7 0a5.85 5.85 0 1 0 -11.7 0M827.2 211.4a5.85 5.85 0 1 0 11.7 0a5.85 5.85 0 1 0 -11.7 0M842.9 169.7a5.85 5.85 0 1 0 11.7 0a5.85 5.85 0 1 0 -11.7 0M842.9 175.9a5.85 5.85 0 1 0 11.7 0a5.85 5.85 0 1 0 -11.7 0M842.9 185.1a5.85 5.85 0 1 0 11.7 0a5.85 5.85 0 1 0 -11.7 0M842.9 194.4a5.85 5.85 0 1 0 11.7 0a5.85 5.85 0 1 0 -11.7 0M842.9 200.6a5.85 5.85 0 1 0 11.7 0a5.85 5.85 0 1 0 -11.7 0M858.6 176.6a5.85 5.85 0 1 0 11.7 0a5.85 5.85 0 1 0 -11.7 0M858.6 181a5.85 5.85 0 1 0 11.7 0a5.85 5.85 0 1 0 -11.7 0M858.6 185.1a5.85 5.85 0 1 0 11.7 0a5.85 5.85 0 1 0 -11.7 0M858.6 189a5.85 5.85 0 1 0 11.7 0a5.85 5.85 0 1 0 -11.7 0M858.6 193.6a5.85 5.85 0 1 0 11.7 0a5.85 5.85 0 1 0 -11.7 0M874.3 180.9a5.85 5.85 0 1 0 11.7 0a5.85 5.85 0 1 0 -11.7 0M874.3 185a5.85 5.85 0 1 0 11.7 0a5.85 5.85 0 1 0 -11.7 0M874.3 189a5.85 5.85 0 1 0 11.7 0a5.85 5.85 0 1 0 -11.7 0M890 183a5.85 5.85 0 1 0 11.7 0a5.85 5.85 0 1 0 -11.7 0M890 185.2a5.85 5.85 0 1 0 11.7 0a5.85 5.85 0 1 0 -11.7 0M890 187.5a5.85 5.85 0 1 0 11.7 0a5.85 5.85 0 1 0 -11.7 0M905.7 184a5.85 5.85 0 1 0 11.7 0a5.85 5.85 0 1 0 -11.7 0M905.7 186.5a5.85 5.85 0 1 0 11.7 0a5.85 5.85 0 1 0 -11.7 0M921.4 184.9a5.85 5.85 0 1 0 11.7 0a5.85 5.85 0 1 0 -11.7 0M921.4 186.1a5.85 5.85 0 1 0 11.7 0a5.85 5.85 0 1 0 -11.7 0M937.1 185.2a5.85 5.85 0 1 0 11.7 0a5.85 5.85 0 1 0 -11.7 0M952.9 185.2a5.85 5.85 0 1 0 11.7 0a5.85 5.85 0 1 0 -11.7 0M968.6 185.2a5.85 5.85 0 1 0 11.7 0a5.85 5.85 0 1 0 -11.7 0M984.3 185.2a5.85 5.85 0 1 0 11.7 0a5.85 5.85 0 1 0 -11.7 0M1000 185.2a5.85 5.85 0 1 0 11.7 0a5.85 5.85 0 1 0 -11.7 0M1015.7 185.2a5.85 5.85 0 1 0 11.7 0a5.85 5.85 0 1 0 -11.7 0M1031.4 185.2a5.85 5.85 0 1 0 11.7 0a5.85 5.85 0 1 0 -11.7 0M1047.1 185.2a5.85 5.85 0 1 0 11.7 0a5.85 5.85 0 1 0 -11.7 0M1062.8 185.2a5.85 5.85 0 1 0 11.7 0a5.85 5.85 0 1 0 -11.7 0M1078.5 185.2a5.85 5.85 0 1 0 11.7 0a5.85 5.85 0 1 0 -11.7 0M1094.2 185.2a5.85 5.85 0 1 0 11.7 0a5.85 5.85 0 1 0 -11.7 0M1110 185.2a5.85 5.85 0 1 0 11.7 0a5.85 5.85 0 1 0 -11.7 0M1125.7 185.2a5.85 5.85 0 1 0 11.7 0a5.85 5.85 0 1 0 -11.7 0M1141.4 185.2a5.85 5.85 0 1 0 11.7 0a5.85 5.85 0 1 0 -11.7 0M1157.1 185.2a5.85 5.85 0 1 0 11.7 0a5.85 5.85 0 1 0 -11.7 0M1172.8 174.2a5.85 5.85 0 1 0 11.7 0a5.85 5.85 0 1 0 -11.7 0" fill="#7221bc"/>
<rect x="149" y="19" width="1038.3" height="332.2" fill="none" stroke="#000" stroke-width="1.8"/>
<path d="M229.5 351.2V340.2M310 351.2V329.8M390.5 351.2V340.2M471 351.2V329.8M551.5 351.2V340.2M631.9 351.2V329.8M712.4 351.2V340.2M792.9 351.2V329.8M873.4 351.2V340.2M953.9 351.2V329.8M1034.4 351.2V340.2M1114.9 351.2V329.8M149 309.7H160.3M149 268.1H173.4M149 226.6H160.3M149 185.1H173.4M149 143.6H160.3M149 102H173.4M149 60.5H160.3M1187.3 323.5H1176.5M1187.3 295.8H1166.1M1187.3 268.2H1176.5M1187.3 240.5H1166.1M1187.3 212.8H1176.5M1187.3 185.1H1166.1M1187.3 157.4H1176.5M1187.3 129.7H1166.1M1187.3 102H1176.5M1187.3 74.4H1166.1M1187.3 46.7H1176.5" stroke="#000" stroke-width="1.8" fill="none"/>
<rect x="200.3" y="50" width="299.9" height="80.3" fill="#fff" stroke="#000" stroke-width="1.8"/>
<path d="M227.7 73a5.6 5.6 0 1 0 11.2 0a5.6 5.6 0 1 0 -11.2 0" fill="none" stroke="#ff0000" stroke-width="3.0"/>
<line x1="211.3" y1="107.8" x2="256.8" y2="107.8" stroke="#000" stroke-width="4"/>
<text x="274.8" y="84.8" font-size="35" text-anchor="start" >simulation data</text>
<text x="275.8" y="119" font-size="35" text-anchor="start" >model function</text>
<rect x="875.3" y="268.7" width="275.1" height="44.8" fill="#fff" stroke="#000" stroke-width="1.8"/>
<path d="M901.2 290.8a5.85 5.85 0 1 0 11.7 0a5.85 5.85 0 1 0 -11.7 0" fill="#7221bc"/>
<text x="942.2" y="302.1" font-size="35" text-anchor="start" >corrected data</text>
<text x="0" y="0" font-size="42" transform="translate(481,324.2) scale(1,1.08)">y</text>
<text x="502.2" y="309.7" font-size="32" text-anchor="start" >ref.</text>
<text x="502.3" y="341.7" font-size="32" text-anchor="start" >B</text>
<text x="140" y="363.5" font-size="36" text-anchor="end" >-200</text>
<text x="140" y="280.4" font-size="36" text-anchor="end" >-100</text>
<text x="140" y="197.4" font-size="36" text-anchor="end" >0</text>
<text x="140" y="114.3" font-size="36" text-anchor="end" >100</text>
<text x="140" y="31.3" font-size="36" text-anchor="end" >200</text>
<text x="149" y="386.3" font-size="36" text-anchor="middle" >0</text>
<text x="310" y="386.3" font-size="36" text-anchor="middle" >20</text>
<text x="471" y="386.3" font-size="36" text-anchor="middle" >40</text>
<text x="631.9" y="386.3" font-size="36" text-anchor="middle" >60</text>
<text x="792.9" y="386.3" font-size="36" text-anchor="middle" >80</text>
<text x="953.9" y="386.3" font-size="36" text-anchor="middle" >100</text>
<text x="1114.9" y="386.3" font-size="36" text-anchor="middle" >120</text>
<text x="1197.2" y="363.5" font-size="36" text-anchor="start" >-30</text>
<text x="1197.2" y="308.1" font-size="36" text-anchor="start" >-20</text>
<text x="1197.2" y="252.8" font-size="36" text-anchor="start" >-10</text>
<text x="1197.2" y="197.4" font-size="36" text-anchor="start" >0</text>
<text x="1197.2" y="142" font-size="36" text-anchor="start" >10</text>
<text x="1197.2" y="86.7" font-size="36" text-anchor="start" >20</text>
<text x="1197.2" y="31.3" font-size="36" text-anchor="start" >30</text>
<text x="668.2" y="428.8" font-size="35" text-anchor="middle" >Coordinate y (Å)</text>
<text x="0" y="0" font-size="35" text-anchor="middle" transform="translate(51.4,180.3) rotate(-90)">ΔE<tspan font-size="25" dy="13.7">f</tspan><tspan dy="-13.7"> (eV)</tspan></text>
<text x="0" y="0" font-size="35" text-anchor="middle" transform="translate(1279.6,180.3) rotate(-90)">ΔE<tspan font-size="25" dy="13.7">f</tspan><tspan dy="-13.7"> (eV)</tspan></text>
<text class="sans" x="-0.8" y="33.1" font-size="42">(a<tspan dx="3.4">)</tspan></text>
<path d="M176.5 605a5.6 5.6 0 1 0 11.2 0a5.6 5.6 0 1 0 -11.2 0M182.8 611.1a5.6 5.6 0 1 0 11.2 0a5.6 5.6 0 1 0 -11.2 0M186.6 614.9a5.6 5.6 0 1 0 11.2 0a5.6 5.6 0 1 0 -11.2 0M195.8 626.6a5.6 5.6 0 1 0 11.2 0a5.6 5.6 0 1 0 -11.2 0M179.7 618.4a5.6 5.6 0 1 0 11.2 0a5.6 5.6 0 1 0 -11.2 0M189.1 625a5.6 5.6 0 1 0 11.2 0a5.6 5.6 0 1 0 -11.2 0M187 631.1a5.6 5.6 0 1 0 11.2 0a5.6 5.6 0 1 0 -11.2 0M181 619.5a5.6 5.6 0 1 0 11.2 0a5.6 5.6 0 1 0 -11.2 0M176.8 629.9a5.6 5.6 0 1 0 11.2 0a5.6 5.6 0 1 0 -11.2 0M183.1 634.9a5.6 5.6 0 1 0 11.2 0a5.6 5.6 0 1 0 -11.2 0M195.9 643.4a5.6 5.6 0 1 0 11.2 0a5.6 5.6 0 1 0 -11.2 0M189.6 633.7a5.6 5.6 0 1 0 11.2 0a5.6 5.6 0 1 0 -11.2 0M173.3 634.1a5.6 5.6 0 1 0 11.2 0a5.6 5.6 0 1 0 -11.2 0M208 640.1a5.6 5.6 0 1 0 11.2 0a5.6 5.6 0 1 0 -11.2 0M202.2 640.3a5.6 5.6 0 1 0 11.2 0a5.6 5.6 0 1 0 -11.2 0M220.9 653.1a5.6 5.6 0 1 0 11.2 0a5.6 5.6 0 1 0 -11.2 0M230.4 661.4a5.6 5.6 0 1 0 11.2 0a5.6 5.6 0 1 0 -11.2 0M240.5 669.8a5.6 5.6 0 1 0 11.2 0a5.6 5.6 0 1 0 -11.2 0M247.5 675.7a5.6 5.6 0 1 0 11.2 0a5.6 5.6 0 1 0 -11.2 0M208.4 651.4a5.6 5.6 0 1 0 11.2 0a5.6 5.6 0 1 0 -11.2 0M217.8 657.9a5.6 5.6 0 1 0 11.2 0a5.6 5.6 0 1 0 -11.2 0M228 664.4a5.6 5.6 0 1 0 11.2 0a5.6 5.6 0 1 0 -11.2 0M239.7 672.9a5.6 5.6 0 1 0 11.2 0a5.6 5.6 0 1 0 -11.2 0M199.2 637.4a5.6 5.6 0 1 0 11.2 0a5.6 5.6 0 1 0 -11.2 0M192.6 632.1a5.6 5.6 0 1 0 11.2 0a5.6 5.6 0 1 0 -11.2 0M213.9 651a5.6 5.6 0 1 0 11.2 0a5.6 5.6 0 1 0 -11.2 0M225.1 659.4a5.6 5.6 0 1 0 11.2 0a5.6 5.6 0 1 0 -11.2 0M235.2 667.5a5.6 5.6 0 1 0 11.2 0a5.6 5.6 0 1 0 -11.2 0M201.8 640.7a5.6 5.6 0 1 0 11.2 0a5.6 5.6 0 1 0 -11.2 0M205.8 641a5.6 5.6 0 1 0 11.2 0a5.6 5.6 0 1 0 -11.2 0M205.8 646.3a5.6 5.6 0 1 0 11.2 0a5.6 5.6 0 1 0 -11.2 0M211.9 647.7a5.6 5.6 0 1 0 11.2 0a5.6 5.6 0 1 0 -11.2 0M216 648.4a5.6 5.6 0 1 0 11.2 0a5.6 5.6 0 1 0 -11.2 0M216 655.8a5.6 5.6 0 1 0 11.2 0a5.6 5.6 0 1 0 -11.2 0M222 656a5.6 5.6 0 1 0 11.2 0a5.6 5.6 0 1 0 -11.2 0M228.1 662.4a5.6 5.6 0 1 0 11.2 0a5.6 5.6 0 1 0 -11.2 0M744.6 578.4a5.6 5.6 0 1 0 11.2 0a5.6 5.6 0 1 0 -11.2 0M747.6 571.6a5.6 5.6 0 1 0 11.2 0a5.6 5.6 0 1 0 -11.2 0M755.2 545.7a5.6 5.6 0 1 0 11.2 0a5.6 5.6 0 1 0 -11.2 0M738.1 598.1a5.6 5.6 0 1 0 11.2 0a5.6 5.6 0 1 0 -11.2 0M731.4 606.1a5.6 5.6 0 1 0 11.2 0a5.6 5.6 0 1 0 -11.2 0M724.2 613.1a5.6 5.6 0 1 0 11.2 0a5.6 5.6 0 1 0 -11.2 0M721.5 615.8a5.6 5.6 0 1 0 11.2 0a5.6 5.6 0 1 0 -11.2 0M712.6 627.1a5.6 5.6 0 1 0 11.2 0a5.6 5.6 0 1 0 -11.2 0M718.8 626a5.6 5.6 0 1 0 11.2 0a5.6 5.6 0 1 0 -11.2 0M728.2 619.4a5.6 5.6 0 1 0 11.2 0a5.6 5.6 0 1 0 -11.2 0M741.2 602.4a5.6 5.6 0 1 0 11.2 0a5.6 5.6 0 1 0 -11.2 0M751.1 588.9a5.6 5.6 0 1 0 11.2 0a5.6 5.6 0 1 0 -11.2 0M763.1 577a5.6 5.6 0 1 0 11.2 0a5.6 5.6 0 1 0 -11.2 0M700 641a5.6 5.6 0 1 0 11.2 0a5.6 5.6 0 1 0 -11.2 0M689.3 652.2a5.6 5.6 0 1 0 11.2 0a5.6 5.6 0 1 0 -11.2 0M704.5 641.4a5.6 5.6 0 1 0 11.2 0a5.6 5.6 0 1 0 -11.2 0M690.2 658a5.6 5.6 0 1 0 11.2 0a5.6 5.6 0 1 0 -11.2 0M699.6 652.1a5.6 5.6 0 1 0 11.2 0a5.6 5.6 0 1 0 -11.2 0M712.1 644.1a5.6 5.6 0 1 0 11.2 0a5.6 5.6 0 1 0 -11.2 0M719.3 633.4a5.6 5.6 0 1 0 11.2 0a5.6 5.6 0 1 0 -11.2 0M725.1 635.1a5.6 5.6 0 1 0 11.2 0a5.6 5.6 0 1 0 -11.2 0M731.4 629.2a5.6 5.6 0 1 0 11.2 0a5.6 5.6 0 1 0 -11.2 0M739.4 622.4a5.6 5.6 0 1 0 11.2 0a5.6 5.6 0 1 0 -11.2 0M751.1 609.6a5.6 5.6 0 1 0 11.2 0a5.6 5.6 0 1 0 -11.2 0M763.5 593.2a5.6 5.6 0 1 0 11.2 0a5.6 5.6 0 1 0 -11.2 0M763.8 592.9a5.6 5.6 0 1 0 11.2 0a5.6 5.6 0 1 0 -11.2 0M751 610a5.6 5.6 0 1 0 11.2 0a5.6 5.6 0 1 0 -11.2 0M725.2 635.7a5.6 5.6 0 1 0 11.2 0a5.6 5.6 0 1 0 -11.2 0M732.5 629.7a5.6 5.6 0 1 0 11.2 0a5.6 5.6 0 1 0 -11.2 0M738.1 625.5a5.6 5.6 0 1 0 11.2 0a5.6 5.6 0 1 0 -11.2 0M712.4 644.1a5.6 5.6 0 1 0 11.2 0a5.6 5.6 0 1 0 -11.2 0M698.9 653.4a5.6 5.6 0 1 0 11.2 0a5.6 5.6 0 1 0 -11.2 0M734.7 634.9a5.6 5.6 0 1 0 11.2 0a5.6 5.6 0 1 0 -11.2 0M744.3 632.2a5.6 5.6 0 1 0 11.2 0a5.6 5.6 0 1 0 -11.2 0M754.3 623a5.6 5.6 0 1 0 11.2 0a5.6 5.6 0 1 0 -11.2 0M760.5 627.6a5.6 5.6 0 1 0 11.2 0a5.6 5.6 0 1 0 -11.2 0M757.3 639.6a5.6 5.6 0 1 0 11.2 0a5.6 5.6 0 1 0 -11.2 0M770 641.8a5.6 5.6 0 1 0 11.2 0a5.6 5.6 0 1 0 -11.2 0M770.2 506.3a5.6 5.6 0 1 0 11.2 0a5.6 5.6 0 1 0 -11.2 0M766.6 523.1a5.6 5.6 0 1 0 11.2 0a5.6 5.6 0 1 0 -11.2 0M773.3 524.4a5.6 5.6 0 1 0 11.2 0a5.6 5.6 0 1 0 -11.2 0M757.2 543.6a5.6 5.6 0 1 0 11.2 0a5.6 5.6 0 1 0 -11.2 0M710.2 629.1a5.6 5.6 0 1 0 11.2 0a5.6 5.6 0 1 0 -11.2 0M706.9 640.9a5.6 5.6 0 1 0 11.2 0a5.6 5.6 0 1 0 -11.2 0M715 633.8a5.6 5.6 0 1 0 11.2 0a5.6 5.6 0 1 0 -11.2 0M694.8 651.2a5.6 5.6 0 1 0 11.2 0a5.6 5.6 0 1 0 -11.2 0M235.2 665.8a5.6 5.6 0 1 0 11.2 0a5.6 5.6 0 1 0 -11.2 0M235.2 668.9a5.6 5.6 0 1 0 11.2 0a5.6 5.6 0 1 0 -11.2 0M235.2 667.4a5.6 5.6 0 1 0 11.2 0a5.6 5.6 0 1 0 -11.2 0M238.4 668.3a5.6 5.6 0 1 0 11.2 0a5.6 5.6 0 1 0 -11.2 0M238.4 671.1a5.6 5.6 0 1 0 11.2 0a5.6 5.6 0 1 0 -11.2 0M238.4 669.7a5.6 5.6 0 1 0 11.2 0a5.6 5.6 0 1 0 -11.2 0M241.5 670.8a5.6 5.6 0 1 0 11.2 0a5.6 5.6 0 1 0 -11.2 0M241.5 673.3a5.6 5.6 0 1 0 11.2 0a5.6 5.6 0 1 0 -11.2 0M241.5 672a5.6 5.6 0 1 0 11.2 0a5.6 5.6 0 1 0 -11.2 0M244.7 673.3a5.6 5.6 0 1 0 11.2 0a5.6 5.6 0 1 0 -11.2 0M244.7 675.4a5.6 5.6 0 1 0 11.2 0a5.6 5.6 0 1 0 -11.2 0M244.7 674.3a5.6 5.6 0 1 0 11.2 0a5.6 5.6 0 1 0 -11.2 0M247.8 675.7a5.6 5.6 0 1 0 11.2 0a5.6 5.6 0 1 0 -11.2 0M247.8 677.5a5.6 5.6 0 1 0 11.2 0a5.6 5.6 0 1 0 -11.2 0M247.8 676.6a5.6 5.6 0 1 0 11.2 0a5.6 5.6 0 1 0 -11.2 0M251 678a5.6 5.6 0 1 0 11.2 0a5.6 5.6 0 1 0 -11.2 0M251 679.5a5.6 5.6 0 1 0 11.2 0a5.6 5.6 0 1 0 -11.2 0M251 678.8a5.6 5.6 0 1 0 11.2 0a5.6 5.6 0 1 0 -11.2 0M254.1 680.4a5.6 5.6 0 1 0 11.2 0a5.6 5.6 0 1 0 -11.2 0M254.1 681.5a5.6 5.6 0 1 0 11.2 0a5.6 5.6 0 1 0 -11.2 0M254.1 681a5.6 5.6 0 1 0 11.2 0a5.6 5.6 0 1 0 -11.2 0M257.2 682.7a5.6 5.6 0 1 0 11.2 0a5.6 5.6 0 1 0 -11.2 0M257.2 683.5a5.6 5.6 0 1 0 11.2 0a5.6 5.6 0 1 0 -11.2 0M257.2 683.1a5.6 5.6 0 1 0 11.2 0a5.6 5.6 0 1 0 -11.2 0M260.4 685a5.6 5.6 0 1 0 11.2 0a5.6 5.6 0 1 0 -11.2 0M260.4 685.5a5.6 5.6 0 1 0 11.2 0a5.6 5.6 0 1 0 -11.2 0M260.4 685.2a5.6 5.6 0 1 0 11.2 0a5.6 5.6 0 1 0 -11.2 0M263.5 687.2a5.6 5.6 0 1 0 11.2 0a5.6 5.6 0 1 0 -11.2 0M263.5 687.4a5.6 5.6 0 1 0 11.2 0a5.6 5.6 0 1 0 -11.2 0M263.5 687.3a5.6 5.6 0 1 0 11.2 0a5.6 5.6 0 1 0 -11.2 0M266.7 689.3a5.6 5.6 0 1 0 11.2 0a5.6 5.6 0 1 0 -11.2 0M266.7 689.3a5.6 5.6 0 1 0 11.2 0a5.6 5.6 0 1 0 -11.2 0M266.7 689.3a5.6 5.6 0 1 0 11.2 0a5.6 5.6 0 1 0 -11.2 0M269.8 691.4a5.6 5.6 0 1 0 11.2 0a5.6 5.6 0 1 0 -11.2 0M269.8 691.4a5.6 5.6 0 1 0 11.2 0a5.6 5.6 0 1 0 -11.2 0M269.8 691.4a5.6 5.6 0 1 0 11.2 0a5.6 5.6 0 1 0 -11.2 0M625.8 699.2a5.6 5.6 0 1 0 11.2 0a5.6 5.6 0 1 0 -11.2 0M625.8 699.5a5.6 5.6 0 1 0 11.2 0a5.6 5.6 0 1 0 -11.2 0M625.8 699.4a5.6 5.6 0 1 0 11.2 0a5.6 5.6 0 1 0 -11.2 0M628.9 697.4a5.6 5.6 0 1 0 11.2 0a5.6 5.6 0 1 0 -11.2 0M628.9 697.7a5.6 5.6 0 1 0 11.2 0a5.6 5.6 0 1 0 -11.2 0M628.9 697.5a5.6 5.6 0 1 0 11.2 0a5.6 5.6 0 1 0 -11.2 0M632.1 695.5a5.6 5.6 0 1 0 11.2 0a5.6 5.6 0 1 0 -11.2 0M632.1 695.8a5.6 5.6 0 1 0 11.2 0a5.6 5.6 0 1 0 -11.2 0M632.1 695.6a5.6 5.6 0 1 0 11.2 0a5.6 5.6 0 1 0 -11.2 0M635.2 693.5a5.6 5.6 0 1 0 11.2 0a5.6 5.6 0 1 0 -11.2 0M635.2 693.8a5.6 5.6 0 1 0 11.2 0a5.6 5.6 0 1 0 -11.2 0M635.2 693.7a5.6 5.6 0 1 0 11.2 0a5.6 5.6 0 1 0 -11.2 0M638.4 691.5a5.6 5.6 0 1 0 11.2 0a5.6 5.6 0 1 0 -11.2 0M638.4 692a5.6 5.6 0 1 0 11.2 0a5.6 5.6 0 1 0 -11.2 0M638.4 691.7a5.6 5.6 0 1 0 11.2 0a5.6 5.6 0 1 0 -11.2 0M641.5 689.3a5.6 5.6 0 1 0 11.2 0a5.6 5.6 0 1 0 -11.2 0M641.5 690.1a5.6 5.6 0 1 0 11.2 0a5.6 5.6 0 1 0 -11.2 0M641.5 689.7a5.6 5.6 0 1 0 11.2 0a5.6 5.6 0 1 0 -11.2 0M644.6 687.2a5.6 5.6 0 1 0 11.2 0a5.6 5.6 0 1 0 -11.2 0M644.6 688.2a5.6 5.6 0 1 0 11.2 0a5.6 5.6 0 1 0 -11.2 0M644.6 687.7a5.6 5.6 0 1 0 11.2 0a5.6 5.6 0 1 0 -11.2 0M647.8 685a5.6 5.6 0 1 0 11.2 0a5.6 5.6 0 1 0 -11.2 0M647.8 686.2a5.6 5.6 0 1 0 11.2 0a5.6 5.6 0 1 0 -11.2 0M647.8 685.6a5.6 5.6 0 1 0 11.2 0a5.6 5.6 0 1 0 -11.2 0M650.9 682.8a5.6 5.6 0 1 0 11.2 0a5.6 5.6 0 1 0 -11.2 0M650.9 684.3a5.6 5.6 0 1 0 11.2 0a5.6 5.6 0 1 0 -11.2 0M650.9 683.5a5.6 5.6 0 1 0 11.2 0a5.6 5.6 0 1 0 -11.2 0M654.1 680.5a5.6 5.6 0 1 0 11.2 0a5.6 5.6 0 1 0 -11.2 0M654.1 682.2a5.6 5.6 0 1 0 11.2 0a5.6 5.6 0 1 0 -11.2 0M654.1 681.4a5.6 5.6 0 1 0 11.2 0a5.6 5.6 0 1 0 -11.2 0M657.2 678.2a5.6 5.6 0 1 0 11.2 0a5.6 5.6 0 1 0 -11.2 0M657.2 680.2a5.6 5.6 0 1 0 11.2 0a5.6 5.6 0 1 0 -11.2 0M657.2 679.2a5.6 5.6 0 1 0 11.2 0a5.6 5.6 0 1 0 -11.2 0M660.4 675.9a5.6 5.6 0 1 0 11.2 0a5.6 5.6 0 1 0 -11.2 0M660.4 678.1a5.6 5.6 0 1 0 11.2 0a5.6 5.6 0 1 0 -11.2 0M660.4 677a5.6 5.6 0 1 0 11.2 0a5.6 5.6 0 1 0 -11.2 0M663.5 673.5a5.6 5.6 0 1 0 11.2 0a5.6 5.6 0 1 0 -11.2 0M663.5 676a5.6 5.6 0 1 0 11.2 0a5.6 5.6 0 1 0 -11.2 0M663.5 674.7a5.6 5.6 0 1 0 11.2 0a5.6 5.6 0 1 0 -11.2 0M666.7 671.1a5.6 5.6 0 1 0 11.2 0a5.6 5.6 0 1 0 -11.2 0M666.7 673.8a5.6 5.6 0 1 0 11.2 0a5.6 5.6 0 1 0 -11.2 0M666.7 672.5a5.6 5.6 0 1 0 11.2 0a5.6 5.6 0 1 0 -11.2 0M669.8 668.7a5.6 5.6 0 1 0 11.2 0a5.6 5.6 0 1 0 -11.2 0M669.8 671.7a5.6 5.6 0 1 0 11.2 0a5.6 5.6 0 1 0 -11.2 0M669.8 670.2a5.6 5.6 0 1 0 11.2 0a5.6 5.6 0 1 0 -11.2 0M672.9 666.2a5.6 5.6 0 1 0 11.2 0a5.6 5.6 0 1 0 -11.2 0M672.9 669.4a5.6 5.6 0 1 0 11.2 0a5.6 5.6 0 1 0 -11.2 0M672.9 667.8a5.6 5.6 0 1 0 11.2 0a5.6 5.6 0 1 0 -11.2 0M676.1 663.7a5.6 5.6 0 1 0 11.2 0a5.6 5.6 0 1 0 -11.2 0M676.1 667.2a5.6 5.6 0 1 0 11.2 0a5.6 5.6 0 1 0 -11.2 0M676.1 665.5a5.6 5.6 0 1 0 11.2 0a5.6 5.6 0 1 0 -11.2 0M679.2 661.2a5.6 5.6 0 1 0 11.2 0a5.6 5.6 0 1 0 -11.2 0M679.2 664.9a5.6 5.6 0 1 0 11.2 0a5.6 5.6 0 1 0 -11.2 0M679.2 663a5.6 5.6 0 1 0 11.2 0a5.6 5.6 0 1 0 -11.2 0M682.4 658.6a5.6 5.6 0 1 0 11.2 0a5.6 5.6 0 1 0 -11.2 0M682.4 662.6a5.6 5.6 0 1 0 11.2 0a5.6 5.6 0 1 0 -11.2 0M682.4 660.6a5.6 5.6 0 1 0 11.2 0a5.6 5.6 0 1 0 -11.2 0M685.5 656a5.6 5.6 0 1 0 11.2 0a5.6 5.6 0 1 0 -11.2 0M685.5 660.2a5.6 5.6 0 1 0 11.2 0a5.6 5.6 0 1 0 -11.2 0M685.5 658.1a5.6 5.6 0 1 0 11.2 0a5.6 5.6 0 1 0 -11.2 0M688.7 653.4a5.6 5.6 0 1 0 11.2 0a5.6 5.6 0 1 0 -11.2 0M688.7 657.8a5.6 5.6 0 1 0 11.2 0a5.6 5.6 0 1 0 -11.2 0M688.7 655.6a5.6 5.6 0 1 0 11.2 0a5.6 5.6 0 1 0 -11.2 0M691.8 650.7a5.6 5.6 0 1 0 11.2 0a5.6 5.6 0 1 0 -11.2 0M691.8 655.4a5.6 5.6 0 1 0 11.2 0a5.6 5.6 0 1 0 -11.2 0M691.8 653.1a5.6 5.6 0 1 0 11.2 0a5.6 5.6 0 1 0 -11.2 0M695 648a5.6 5.6 0 1 0 11.2 0a5.6 5.6 0 1 0 -11.2 0M695 653a5.6 5.6 0 1 0 11.2 0a5.6 5.6 0 1 0 -11.2 0M695 650.5a5.6 5.6 0 1 0 11.2 0a5.6 5.6 0 1 0 -11.2 0M698.1 645.3a5.6 5.6 0 1 0 11.2 0a5.6 5.6 0 1 0 -11.2 0M698.1 650.5a5.6 5.6 0 1 0 11.2 0a5.6 5.6 0 1 0 -11.2 0M698.1 647.9a5.6 5.6 0 1 0 11.2 0a5.6 5.6 0 1 0 -11.2 0M138.8 506.5a5.6 5.6 0 1 0 11.2 0a5.6 5.6 0 1 0 -11.2 0M151.6 537.5a5.6 5.6 0 1 0 11.2 0a5.6 5.6 0 1 0 -11.2 0M149.4 542.3a5.6 5.6 0 1 0 11.2 0a5.6 5.6 0 1 0 -11.2 0M154.5 564.7a5.6 5.6 0 1 0 11.2 0a5.6 5.6 0 1 0 -11.2 0M144.9 577.3a5.6 5.6 0 1 0 11.2 0a5.6 5.6 0 1 0 -11.2 0M164.2 575.4a5.6 5.6 0 1 0 11.2 0a5.6 5.6 0 1 0 -11.2 0M157.8 585.5a5.6 5.6 0 1 0 11.2 0a5.6 5.6 0 1 0 -11.2 0M145.1 598.5a5.6 5.6 0 1 0 11.2 0a5.6 5.6 0 1 0 -11.2 0M173.7 590.3a5.6 5.6 0 1 0 11.2 0a5.6 5.6 0 1 0 -11.2 0M172.4 595.3a5.6 5.6 0 1 0 11.2 0a5.6 5.6 0 1 0 -11.2 0M178.4 602.7a5.6 5.6 0 1 0 11.2 0a5.6 5.6 0 1 0 -11.2 0M157.5 610.4a5.6 5.6 0 1 0 11.2 0a5.6 5.6 0 1 0 -11.2 0M183.6 609.5a5.6 5.6 0 1 0 11.2 0a5.6 5.6 0 1 0 -11.2 0M135.4 634.7a5.6 5.6 0 1 0 11.2 0a5.6 5.6 0 1 0 -11.2 0M175.7 605.3a5.6 5.6 0 1 0 11.2 0a5.6 5.6 0 1 0 -11.2 0M151.5 650.5a5.6 5.6 0 1 0 11.2 0a5.6 5.6 0 1 0 -11.2 0M142.3 652a5.6 5.6 0 1 0 11.2 0a5.6 5.6 0 1 0 -11.2 0M161.2 639.7a5.6 5.6 0 1 0 11.2 0a5.6 5.6 0 1 0 -11.2 0M179 634.4a5.6 5.6 0 1 0 11.2 0a5.6 5.6 0 1 0 -11.2 0M137.3 663.2a5.6 5.6 0 1 0 11.2 0a5.6 5.6 0 1 0 -11.2 0M772.4 634a5.6 5.6 0 1 0 11.2 0a5.6 5.6 0 1 0 -11.2 0M756.7 648.2a5.6 5.6 0 1 0 11.2 0a5.6 5.6 0 1 0 -11.2 0M765.6 651.7a5.6 5.6 0 1 0 11.2 0a5.6 5.6 0 1 0 -11.2 0M770.9 663.2a5.6 5.6 0 1 0 11.2 0a5.6 5.6 0 1 0 -11.2 0M191.8 622.8a5.6 5.6 0 1 0 11.2 0a5.6 5.6 0 1 0 -11.2 0M197.9 623.6a5.6 5.6 0 1 0 11.2 0a5.6 5.6 0 1 0 -11.2 0M201.8 630.6a5.6 5.6 0 1 0 11.2 0a5.6 5.6 0 1 0 -11.2 0M209.5 638.3a5.6 5.6 0 1 0 11.2 0a5.6 5.6 0 1 0 -11.2 0M166.4 598a5.6 5.6 0 1 0 11.2 0a5.6 5.6 0 1 0 -11.2 0M162.4 605a5.6 5.6 0 1 0 11.2 0a5.6 5.6 0 1 0 -11.2 0M168.4 616a5.6 5.6 0 1 0 11.2 0a5.6 5.6 0 1 0 -11.2 0M789.6 520.6a5.6 5.6 0 1 0 11.2 0a5.6 5.6 0 1 0 -11.2 0M789.6 541.7a5.6 5.6 0 1 0 11.2 0a5.6 5.6 0 1 0 -11.2 0M789.6 582.3a5.6 5.6 0 1 0 11.2 0a5.6 5.6 0 1 0 -11.2 0M789.6 628.1a5.6 5.6 0 1 0 11.2 0a5.6 5.6 0 1 0 -11.2 0M789.6 642.3a5.6 5.6 0 1 0 11.2 0a5.6 5.6 0 1 0 -11.2 0M805.5 552.2a5.6 5.6 0 1 0 11.2 0a5.6 5.6 0 1 0 -11.2 0M805.5 563.2a5.6 5.6 0 1 0 11.2 0a5.6 5.6 0 1 0 -11.2 0M805.5 582a5.6 5.6 0 1 0 11.2 0a5.6 5.6 0 1 0 -11.2 0M805.5 604a5.6 5.6 0 1 0 11.2 0a5.6 5.6 0 1 0 -11.2 0M805.5 616.2a5.6 5.6 0 1 0 11.2 0a5.6 5.6 0 1 0 -11.2 0M821.5 574.3a5.6 5.6 0 1 0 11.2 0a5.6 5.6 0 1 0 -11.2 0M821.5 579.8a5.6 5.6 0 1 0 11.2 0a5.6 5.6 0 1 0 -11.2 0M821.5 590.9a5.6 5.6 0 1 0 11.2 0a5.6 5.6 0 1 0 -11.2 0M821.5 605.1a5.6 5.6 0 1 0 11.2 0a5.6 5.6 0 1 0 -11.2 0M821.5 609.6a5.6 5.6 0 1 0 11.2 0a5.6 5.6 0 1 0 -11.2 0M837.4 592.3a5.6 5.6 0 1 0 11.2 0a5.6 5.6 0 1 0 -11.2 0M837.4 596.1a5.6 5.6 0 1 0 11.2 0a5.6 5.6 0 1 0 -11.2 0M837.4 599.9a5.6 5.6 0 1 0 11.2 0a5.6 5.6 0 1 0 -11.2 0M837.4 603.8a5.6 5.6 0 1 0 11.2 0a5.6 5.6 0 1 0 -11.2 0M837.4 607.6a5.6 5.6 0 1 0 11.2 0a5.6 5.6 0 1 0 -11.2 0M837.4 611.4a5.6 5.6 0 1 0 11.2 0a5.6 5.6 0 1 0 -11.2 0M853.4 603.6a5.6 5.6 0 1 0 11.2 0a5.6 5.6 0 1 0 -11.2 0M853.4 607.3a5.6 5.6 0 1 0 11.2 0a5.6 5.6 0 1 0 -11.2 0M853.4 610.9a5.6 5.6 0 1 0 11.2 0a5.6 5.6 0 1 0 -11.2 0M853.4 614.6a5.6 5.6 0 1 0 11.2 0a5.6 5.6 0 1 0 -11.2 0M869.3 611.9a5.6 5.6 0 1 0 11.2 0a5.6 5.6 0 1 0 -11.2 0M869.3 614.4a5.6 5.6 0 1 0 11.2 0a5.6 5.6 0 1 0 -11.2 0M869.3 616.8a5.6 5.6 0 1 0 11.2 0a5.6 5.6 0 1 0 -11.2 0M869.3 619.3a5.6 5.6 0 1 0 11.2 0a5.6 5.6 0 1 0 -11.2 0M885.2 619.1a5.6 5.6 0 1 0 11.2 0a5.6 5.6 0 1 0 -11.2 0M885.2 621a5.6 5.6 0 1 0 11.2 0a5.6 5.6 0 1 0 -11.2 0M885.2 622.8a5.6 5.6 0 1 0 11.2 0a5.6 5.6 0 1 0 -11.2 0M901.2 624.5a5.6 5.6 0 1 0 11.2 0a5.6 5.6 0 1 0 -11.2 0M901.2 626.5a5.6 5.6 0 1 0 11.2 0a5.6 5.6 0 1 0 -11.2 0M917.1 630.3a5.6 5.6 0 1 0 11.2 0a5.6 5.6 0 1 0 -11.2 0M933.1 633.3a5.6 5.6 0 1 0 11.2 0a5.6 5.6 0 1 0 -11.2 0M949 635.5a5.6 5.6 0 1 0 11.2 0a5.6 5.6 0 1 0 -11.2 0M964.9 636.9a5.6 5.6 0 1 0 11.2 0a5.6 5.6 0 1 0 -11.2 0M980.9 637.3a5.6 5.6 0 1 0 11.2 0a5.6 5.6 0 1 0 -11.2 0M996.8 636.9a5.6 5.6 0 1 0 11.2 0a5.6 5.6 0 1 0 -11.2 0M1012.8 635.6a5.6 5.6 0 1 0 11.2 0a5.6 5.6 0 1 0 -11.2 0M1028.7 633.4a5.6 5.6 0 1 0 11.2 0a5.6 5.6 0 1 0 -11.2 0M1044.6 630.3a5.6 5.6 0 1 0 11.2 0a5.6 5.6 0 1 0 -11.2 0M1060.6 624.5a5.6 5.6 0 1 0 11.2 0a5.6 5.6 0 1 0 -11.2 0M1060.6 626.5a5.6 5.6 0 1 0 11.2 0a5.6 5.6 0 1 0 -11.2 0M1076.5 619.1a5.6 5.6 0 1 0 11.2 0a5.6 5.6 0 1 0 -11.2 0M1076.5 621a5.6 5.6 0 1 0 11.2 0a5.6 5.6 0 1 0 -11.2 0M1076.5 622.8a5.6 5.6 0 1 0 11.2 0a5.6 5.6 0 1 0 -11.2 0M1092.5 611.9a5.6 5.6 0 1 0 11.2 0a5.6 5.6 0 1 0 -11.2 0M1092.5 614.4a5.6 5.6 0 1 0 11.2 0a5.6 5.6 0 1 0 -11.2 0M1092.5 616.8a5.6 5.6 0 1 0 11.2 0a5.6 5.6 0 1 0 -11.2 0M1092.5 619.3a5.6 5.6 0 1 0 11.2 0a5.6 5.6 0 1 0 -11.2 0M1108.4 603.6a5.6 5.6 0 1 0 11.2 0a5.6 5.6 0 1 0 -11.2 0M1108.4 607.3a5.6 5.6 0 1 0 11.2 0a5.6 5.6 0 1 0 -11.2 0M1108.4 610.9a5.6 5.6 0 1 0 11.2 0a5.6 5.6 0 1 0 -11.2 0M1108.4 614.6a5.6 5.6 0 1 0 11.2 0a5.6 5.6 0 1 0 -11.2 0M1124.3 592.3a5.6 5.6 0 1 0 11.2 0a5.6 5.6 0 1 0 -11.2 0M1124.3 596.1a5.6 5.6 0 1 0 11.2 0a5.6 5.6 0 1 0 -11.2 0M1124.3 599.9a5.6 5.6 0 1 0 11.2 0a5.6 5.6 0 1 0 -11.2 0M1124.3 603.8a5.6 5.6 0 1 0 11.2 0a5.6 5.6 0 1 0 -11.2 0M1124.3 607.6a5.6 5.6 0 1 0 11.2 0a5.6 5.6 0 1 0 -11.2 0M1124.3 611.4a5.6 5.6 0 1 0 11.2 0a5.6 5.6 0 1 0 -11.2 0M1140.3 574.3a5.6 5.6 0 1 0 11.2 0a5.6 5.6 0 1 0 -11.2 0M1140.3 579.8a5.6 5.6 0 1 0 11.2 0a5.6 5.6 0 1 0 -11.2 0M1140.3 590.9a5.6 5.6 0 1 0 11.2 0a5.6 5.6 0 1 0 -11.2 0M1140.3 605.1a5.6 5.6 0 1 0 11.2 0a5.6 5.6 0 1 0 -11.2 0M1140.3 609.6a5.6 5.6 0 1 0 11.2 0a5.6 5.6 0 1 0 -11.2 0M1156.2 552.2a5.6 5.6 0 1 0 11.2 0a5.6 5.6 0 1 0 -11.2 0M1156.2 563.2a5.6 5.6 0 1 0 11.2 0a5.6 5.6 0 1 0 -11.2 0M1156.2 582a5.6 5.6 0 1 0 11.2 0a5.6 5.6 0 1 0 -11.2 0M1156.2 604a5.6 5.6 0 1 0 11.2 0a5.6 5.6 0 1 0 -11.2 0M1156.2 616.2a5.6 5.6 0 1 0 11.2 0a5.6 5.6 0 1 0 -11.2 0M1172.2 520.6a5.6 5.6 0 1 0 11.2 0a5.6 5.6 0 1 0 -11.2 0M1172.2 541.7a5.6 5.6 0 1 0 11.2 0a5.6 5.6 0 1 0 -11.2 0M1172.2 582.3a5.6 5.6 0 1 0 11.2 0a5.6 5.6 0 1 0 -11.2 0M1172.2 628.1a5.6 5.6 0 1 0 11.2 0a5.6 5.6 0 1 0 -11.2 0M1172.2 642.3a5.6 5.6 0 1 0 11.2 0a5.6 5.6 0 1 0 -11.2 0" fill="none" stroke="#ff0000" stroke-width="3.0"/>
<path d="M214.9 646.7 L223 653.4 L231 659.8 L239 666 L247.1 672 L255.1 677.8 L263.1 683.3 L271.2 688.6 L279.2 693.7 L287.2 698.6 L295.2 703.2 L303.3 707.7 L311.3 711.9 L319.3 715.9 L327.4 719.7 L335.4 723.2 L343.4 726.5 L351.4 729.6 L359.5 732.5 L367.5 735.2 L375.5 737.6 L383.6 739.8 L391.6 741.8 L399.6 743.6 L407.6 745.2 L415.7 746.5 L423.7 747.6 L431.7 748.5 L439.8 749.2 L447.8 749.6 L455.8 749.9 L463.8 749.9 L471.9 749.7 L479.9 749.2 L487.9 748.6 L496 747.7 L504 746.6 L512 745.3 L520 743.7 L528.1 742 L536.1 740 L544.1 737.8 L552.2 735.4 L560.2 732.7 L568.2 729.8 L576.3 726.7 L584.3 723.4 L592.3 719.9 L600.3 716.1 L608.4 712.2 L616.4 708 L624.4 703.5 L632.5 698.9 L640.5 694 L648.5 689 L656.5 683.7 L664.6 678.1 L672.6 672.4 L680.6 666.4 L688.7 660.2 L696.7 653.8" fill="none" stroke="#ff0000" stroke-width="15" stroke-linecap="round" stroke-linejoin="round"/>
<path d="M143.3 577.6 L153.9 588.9 L164.4 599.8 L175 610.3 L185.5 620.5 L196.1 630.2 L206.6 639.6 L217.2 648.6 L227.7 657.2 L238.3 665.4 L248.8 673.3 L259.4 680.7 L269.9 687.8 L280.5 694.5 L291 700.8 L301.6 706.8 L312.2 712.3 L322.7 717.5 L333.3 722.3 L343.8 726.7 L354.4 730.7 L364.9 734.3 L375.5 737.6 L386 740.5 L396.6 743 L407.1 745.1 L417.7 746.8 L428.2 748.2 L438.8 749.1 L449.3 749.7 L459.9 749.9 L470.5 749.7 L481 749.1 L491.6 748.2 L502.1 746.9 L512.7 745.2 L523.2 743.1 L533.8 740.6 L544.3 737.7 L554.9 734.5 L565.4 730.9 L576 726.8 L586.5 722.5 L597.1 717.7 L607.6 712.5 L618.2 707 L628.8 701.1 L639.3 694.8 L649.9 688.1 L660.4 681 L671 673.6 L681.5 665.7 L692.1 657.5 L702.6 648.9 L713.2 640 L723.7 630.6 L734.3 620.8 L744.8 610.7 L755.4 600.2 L765.9 589.3 L776.5 578.1" fill="none" stroke="#000" stroke-width="4.6"/>
<path d="M796.5 574.4 L802.8 578.5 L809.1 582.4 L815.5 586.2 L821.8 589.9 L828.1 593.4 L834.4 596.8 L840.8 600 L847.1 603.1 L853.4 606.1 L859.7 608.9 L866.1 611.6 L872.4 614.2 L878.7 616.6 L885 618.9 L891.4 621 L897.7 623 L904 624.9 L910.3 626.6 L916.6 628.2 L923 629.6 L929.3 631 L935.6 632.1 L941.9 633.2 L948.3 634.1 L954.6 634.8 L960.9 635.5 L967.2 636 L973.6 636.3 L979.9 636.5 L986.2 636.6 L992.5 636.5 L998.8 636.3 L1005.2 636 L1011.5 635.5 L1017.8 634.9 L1024.1 634.2 L1030.5 633.3 L1036.8 632.3 L1043.1 631.1 L1049.4 629.8 L1055.8 628.4 L1062.1 626.8 L1068.4 625.1 L1074.7 623.2 L1081.1 621.3 L1087.4 619.1 L1093.7 616.9 L1100 614.5 L1106.3 611.9 L1112.7 609.3 L1119 606.5 L1125.3 603.5 L1131.6 600.4 L1138 597.2 L1144.3 593.8 L1150.6 590.3 L1156.9 586.7 L1163.3 582.9 L1169.6 579 L1175.9 575" fill="none" stroke="#000" stroke-width="4.6"/>
<line x1="460.1" y1="749.9" x2="460.1" y2="818" stroke="#000" stroke-width="2.1"/>
<line x1="141" y1="479.5" x2="141" y2="820.1" stroke="#bc8f8f" stroke-width="3.6" stroke-dasharray="27.2 13.1"/>
<line x1="778.9" y1="479.5" x2="778.9" y2="820.1" stroke="#bc8f8f" stroke-width="3.6" stroke-dasharray="27.2 13.1"/>
<line x1="795.1" y1="479.5" x2="795.1" y2="820.1" stroke="#bc8f8f" stroke-width="3.6" stroke-dasharray="27.2 13.1"/>
<line x1="1177.8" y1="479.5" x2="1177.8" y2="820.1" stroke="#bc8f8f" stroke-width="3.6" stroke-dasharray="27.2 13.1"/>
<line x1="243.5" y1="649.5" x2="647.7" y2="649.5" stroke="#7221bc" stroke-width="11.8" stroke-linecap="round"/>
<path d="M141.2 536.4a5.85 5.85 0 1 0 11.7 0a5.85 5.85 0 1 0 -11.7 0M150.8 555.7a5.85 5.85 0 1 0 11.7 0a5.85 5.85 0 1 0 -11.7 0M160.3 590.8a5.85 5.85 0 1 0 11.7 0a5.85 5.85 0 1 0 -11.7 0M163.6 598.2a5.85 5.85 0 1 0 11.7 0a5.85 5.85 0 1 0 -11.7 0M144.4 633.7a5.85 5.85 0 1 0 11.7 0a5.85 5.85 0 1 0 -11.7 0M157.3 630.7a5.85 5.85 0 1 0 11.7 0a5.85 5.85 0 1 0 -11.7 0M166.7 638.1a5.85 5.85 0 1 0 11.7 0a5.85 5.85 0 1 0 -11.7 0M169.8 623a5.85 5.85 0 1 0 11.7 0a5.85 5.85 0 1 0 -11.7 0M176.2 626.1a5.85 5.85 0 1 0 11.7 0a5.85 5.85 0 1 0 -11.7 0M182.5 626.4a5.85 5.85 0 1 0 11.7 0a5.85 5.85 0 1 0 -11.7 0M186.4 626.8a5.85 5.85 0 1 0 11.7 0a5.85 5.85 0 1 0 -11.7 0M195.5 633.4a5.85 5.85 0 1 0 11.7 0a5.85 5.85 0 1 0 -11.7 0M179.5 645.8a5.85 5.85 0 1 0 11.7 0a5.85 5.85 0 1 0 -11.7 0M188.8 642a5.85 5.85 0 1 0 11.7 0a5.85 5.85 0 1 0 -11.7 0M186.8 657.1a5.85 5.85 0 1 0 11.7 0a5.85 5.85 0 1 0 -11.7 0M180.7 645.9a5.85 5.85 0 1 0 11.7 0a5.85 5.85 0 1 0 -11.7 0M144.4 661.8a5.85 5.85 0 1 0 11.7 0a5.85 5.85 0 1 0 -11.7 0M157.3 670.5a5.85 5.85 0 1 0 11.7 0a5.85 5.85 0 1 0 -11.7 0M169.5 675.2a5.85 5.85 0 1 0 11.7 0a5.85 5.85 0 1 0 -11.7 0M176.5 673.2a5.85 5.85 0 1 0 11.7 0a5.85 5.85 0 1 0 -11.7 0M182.8 671.5a5.85 5.85 0 1 0 11.7 0a5.85 5.85 0 1 0 -11.7 0M195.6 665.4a5.85 5.85 0 1 0 11.7 0a5.85 5.85 0 1 0 -11.7 0M189.3 657.6a5.85 5.85 0 1 0 11.7 0a5.85 5.85 0 1 0 -11.7 0M173.1 687.7a5.85 5.85 0 1 0 11.7 0a5.85 5.85 0 1 0 -11.7 0M153.8 702.7a5.85 5.85 0 1 0 11.7 0a5.85 5.85 0 1 0 -11.7 0M163.7 700.4a5.85 5.85 0 1 0 11.7 0a5.85 5.85 0 1 0 -11.7 0M147.7 724.3a5.85 5.85 0 1 0 11.7 0a5.85 5.85 0 1 0 -11.7 0M150.9 740.4a5.85 5.85 0 1 0 11.7 0a5.85 5.85 0 1 0 -11.7 0M138.2 770.1a5.85 5.85 0 1 0 11.7 0a5.85 5.85 0 1 0 -11.7 0M207.8 638.9a5.85 5.85 0 1 0 11.7 0a5.85 5.85 0 1 0 -11.7 0M201.9 649a5.85 5.85 0 1 0 11.7 0a5.85 5.85 0 1 0 -11.7 0M220.7 643.5a5.85 5.85 0 1 0 11.7 0a5.85 5.85 0 1 0 -11.7 0M230.1 645.1a5.85 5.85 0 1 0 11.7 0a5.85 5.85 0 1 0 -11.7 0M240.3 646.7a5.85 5.85 0 1 0 11.7 0a5.85 5.85 0 1 0 -11.7 0M247.3 648.3a5.85 5.85 0 1 0 11.7 0a5.85 5.85 0 1 0 -11.7 0M208.2 659.9a5.85 5.85 0 1 0 11.7 0a5.85 5.85 0 1 0 -11.7 0M217.5 657.6a5.85 5.85 0 1 0 11.7 0a5.85 5.85 0 1 0 -11.7 0M227.8 654.5a5.85 5.85 0 1 0 11.7 0a5.85 5.85 0 1 0 -11.7 0M239.4 653.8a5.85 5.85 0 1 0 11.7 0a5.85 5.85 0 1 0 -11.7 0M199 648.3a5.85 5.85 0 1 0 11.7 0a5.85 5.85 0 1 0 -11.7 0M192.4 649.3a5.85 5.85 0 1 0 11.7 0a5.85 5.85 0 1 0 -11.7 0M213.7 650.3a5.85 5.85 0 1 0 11.7 0a5.85 5.85 0 1 0 -11.7 0M224.8 649.3a5.85 5.85 0 1 0 11.7 0a5.85 5.85 0 1 0 -11.7 0M235 649.8a5.85 5.85 0 1 0 11.7 0a5.85 5.85 0 1 0 -11.7 0M201.5 650.3a5.85 5.85 0 1 0 11.7 0a5.85 5.85 0 1 0 -11.7 0M205.6 644.2a5.85 5.85 0 1 0 11.7 0a5.85 5.85 0 1 0 -11.7 0M205.6 654.4a5.85 5.85 0 1 0 11.7 0a5.85 5.85 0 1 0 -11.7 0M211.6 647.3a5.85 5.85 0 1 0 11.7 0a5.85 5.85 0 1 0 -11.7 0M215.7 642.2a5.85 5.85 0 1 0 11.7 0a5.85 5.85 0 1 0 -11.7 0M215.7 656.4a5.85 5.85 0 1 0 11.7 0a5.85 5.85 0 1 0 -11.7 0M221.8 647.3a5.85 5.85 0 1 0 11.7 0a5.85 5.85 0 1 0 -11.7 0M227.9 650.3a5.85 5.85 0 1 0 11.7 0a5.85 5.85 0 1 0 -11.7 0M135.1 549.2a5.85 5.85 0 1 0 11.7 0a5.85 5.85 0 1 0 -11.7 0M138.2 510.5a5.85 5.85 0 1 0 11.7 0a5.85 5.85 0 1 0 -11.7 0M744.3 597.6a5.85 5.85 0 1 0 11.7 0a5.85 5.85 0 1 0 -11.7 0M747.4 590.5a5.85 5.85 0 1 0 11.7 0a5.85 5.85 0 1 0 -11.7 0M755 555.7a5.85 5.85 0 1 0 11.7 0a5.85 5.85 0 1 0 -11.7 0M737.8 623.1a5.85 5.85 0 1 0 11.7 0a5.85 5.85 0 1 0 -11.7 0M731.1 626.2a5.85 5.85 0 1 0 11.7 0a5.85 5.85 0 1 0 -11.7 0M723.9 626.6a5.85 5.85 0 1 0 11.7 0a5.85 5.85 0 1 0 -11.7 0M721.3 627.1a5.85 5.85 0 1 0 11.7 0a5.85 5.85 0 1 0 -11.7 0M712.4 633.3a5.85 5.85 0 1 0 11.7 0a5.85 5.85 0 1 0 -11.7 0M718.5 641.8a5.85 5.85 0 1 0 11.7 0a5.85 5.85 0 1 0 -11.7 0M728 645.9a5.85 5.85 0 1 0 11.7 0a5.85 5.85 0 1 0 -11.7 0M741 637.3a5.85 5.85 0 1 0 11.7 0a5.85 5.85 0 1 0 -11.7 0M750.8 630.2a5.85 5.85 0 1 0 11.7 0a5.85 5.85 0 1 0 -11.7 0M762.9 631.6a5.85 5.85 0 1 0 11.7 0a5.85 5.85 0 1 0 -11.7 0M699.8 639.2a5.85 5.85 0 1 0 11.7 0a5.85 5.85 0 1 0 -11.7 0M689 643.6a5.85 5.85 0 1 0 11.7 0a5.85 5.85 0 1 0 -11.7 0M704.2 647.2a5.85 5.85 0 1 0 11.7 0a5.85 5.85 0 1 0 -11.7 0M689.9 656.1a5.85 5.85 0 1 0 11.7 0a5.85 5.85 0 1 0 -11.7 0M699.4 659.7a5.85 5.85 0 1 0 11.7 0a5.85 5.85 0 1 0 -11.7 0M711.9 665a5.85 5.85 0 1 0 11.7 0a5.85 5.85 0 1 0 -11.7 0M719.1 657a5.85 5.85 0 1 0 11.7 0a5.85 5.85 0 1 0 -11.7 0M724.8 670.4a5.85 5.85 0 1 0 11.7 0a5.85 5.85 0 1 0 -11.7 0M731.1 670.4a5.85 5.85 0 1 0 11.7 0a5.85 5.85 0 1 0 -11.7 0M739.1 672.2a5.85 5.85 0 1 0 11.7 0a5.85 5.85 0 1 0 -11.7 0M750.8 670a5.85 5.85 0 1 0 11.7 0a5.85 5.85 0 1 0 -11.7 0M763.3 663.3a5.85 5.85 0 1 0 11.7 0a5.85 5.85 0 1 0 -11.7 0M763.6 663.4a5.85 5.85 0 1 0 11.7 0a5.85 5.85 0 1 0 -11.7 0M750.7 670.6a5.85 5.85 0 1 0 11.7 0a5.85 5.85 0 1 0 -11.7 0M724.9 671.7a5.85 5.85 0 1 0 11.7 0a5.85 5.85 0 1 0 -11.7 0M732.2 673.4a5.85 5.85 0 1 0 11.7 0a5.85 5.85 0 1 0 -11.7 0M737.8 675.6a5.85 5.85 0 1 0 11.7 0a5.85 5.85 0 1 0 -11.7 0M712.2 665.6a5.85 5.85 0 1 0 11.7 0a5.85 5.85 0 1 0 -11.7 0M698.7 661.2a5.85 5.85 0 1 0 11.7 0a5.85 5.85 0 1 0 -11.7 0M734.5 687.4a5.85 5.85 0 1 0 11.7 0a5.85 5.85 0 1 0 -11.7 0M744 700.2a5.85 5.85 0 1 0 11.7 0a5.85 5.85 0 1 0 -11.7 0M754.1 701.9a5.85 5.85 0 1 0 11.7 0a5.85 5.85 0 1 0 -11.7 0M760.2 723.1a5.85 5.85 0 1 0 11.7 0a5.85 5.85 0 1 0 -11.7 0M757.1 739.9a5.85 5.85 0 1 0 11.7 0a5.85 5.85 0 1 0 -11.7 0M769.8 769.8a5.85 5.85 0 1 0 11.7 0a5.85 5.85 0 1 0 -11.7 0M770 510.6a5.85 5.85 0 1 0 11.7 0a5.85 5.85 0 1 0 -11.7 0M766.3 535.2a5.85 5.85 0 1 0 11.7 0a5.85 5.85 0 1 0 -11.7 0M773 551.7a5.85 5.85 0 1 0 11.7 0a5.85 5.85 0 1 0 -11.7 0M757 555.8a5.85 5.85 0 1 0 11.7 0a5.85 5.85 0 1 0 -11.7 0M709.9 633a5.85 5.85 0 1 0 11.7 0a5.85 5.85 0 1 0 -11.7 0M706.7 650.3a5.85 5.85 0 1 0 11.7 0a5.85 5.85 0 1 0 -11.7 0M714.8 650.3a5.85 5.85 0 1 0 11.7 0a5.85 5.85 0 1 0 -11.7 0M694.5 650.3a5.85 5.85 0 1 0 11.7 0a5.85 5.85 0 1 0 -11.7 0M235 646.5a5.85 5.85 0 1 0 11.7 0a5.85 5.85 0 1 0 -11.7 0M235 652.5a5.85 5.85 0 1 0 11.7 0a5.85 5.85 0 1 0 -11.7 0M235 649.5a5.85 5.85 0 1 0 11.7 0a5.85 5.85 0 1 0 -11.7 0M238.1 646.9a5.85 5.85 0 1 0 11.7 0a5.85 5.85 0 1 0 -11.7 0M238.1 652.1a5.85 5.85 0 1 0 11.7 0a5.85 5.85 0 1 0 -11.7 0M238.1 649.5a5.85 5.85 0 1 0 11.7 0a5.85 5.85 0 1 0 -11.7 0M241.3 647.2a5.85 5.85 0 1 0 11.7 0a5.85 5.85 0 1 0 -11.7 0M241.3 651.8a5.85 5.85 0 1 0 11.7 0a5.85 5.85 0 1 0 -11.7 0M241.3 649.5a5.85 5.85 0 1 0 11.7 0a5.85 5.85 0 1 0 -11.7 0M244.4 647.5a5.85 5.85 0 1 0 11.7 0a5.85 5.85 0 1 0 -11.7 0M244.4 651.5a5.85 5.85 0 1 0 11.7 0a5.85 5.85 0 1 0 -11.7 0M244.4 649.5a5.85 5.85 0 1 0 11.7 0a5.85 5.85 0 1 0 -11.7 0M247.6 647.8a5.85 5.85 0 1 0 11.7 0a5.85 5.85 0 1 0 -11.7 0M247.6 651.2a5.85 5.85 0 1 0 11.7 0a5.85 5.85 0 1 0 -11.7 0M247.6 649.5a5.85 5.85 0 1 0 11.7 0a5.85 5.85 0 1 0 -11.7 0M250.7 648.1a5.85 5.85 0 1 0 11.7 0a5.85 5.85 0 1 0 -11.7 0M250.7 650.9a5.85 5.85 0 1 0 11.7 0a5.85 5.85 0 1 0 -11.7 0M250.7 649.5a5.85 5.85 0 1 0 11.7 0a5.85 5.85 0 1 0 -11.7 0M253.8 648.4a5.85 5.85 0 1 0 11.7 0a5.85 5.85 0 1 0 -11.7 0M253.8 650.6a5.85 5.85 0 1 0 11.7 0a5.85 5.85 0 1 0 -11.7 0M253.8 649.5a5.85 5.85 0 1 0 11.7 0a5.85 5.85 0 1 0 -11.7 0M257 648.7a5.85 5.85 0 1 0 11.7 0a5.85 5.85 0 1 0 -11.7 0M257 650.3a5.85 5.85 0 1 0 11.7 0a5.85 5.85 0 1 0 -11.7 0M257 649.5a5.85 5.85 0 1 0 11.7 0a5.85 5.85 0 1 0 -11.7 0M260.1 649a5.85 5.85 0 1 0 11.7 0a5.85 5.85 0 1 0 -11.7 0M260.1 650a5.85 5.85 0 1 0 11.7 0a5.85 5.85 0 1 0 -11.7 0M260.1 649.5a5.85 5.85 0 1 0 11.7 0a5.85 5.85 0 1 0 -11.7 0M263.3 649.3a5.85 5.85 0 1 0 11.7 0a5.85 5.85 0 1 0 -11.7 0M263.3 649.7a5.85 5.85 0 1 0 11.7 0a5.85 5.85 0 1 0 -11.7 0M263.3 649.5a5.85 5.85 0 1 0 11.7 0a5.85 5.85 0 1 0 -11.7 0M266.4 649.5a5.85 5.85 0 1 0 11.7 0a5.85 5.85 0 1 0 -11.7 0M266.4 649.5a5.85 5.85 0 1 0 11.7 0a5.85 5.85 0 1 0 -11.7 0M266.4 649.5a5.85 5.85 0 1 0 11.7 0a5.85 5.85 0 1 0 -11.7 0M269.6 649.5a5.85 5.85 0 1 0 11.7 0a5.85 5.85 0 1 0 -11.7 0M269.6 649.5a5.85 5.85 0 1 0 11.7 0a5.85 5.85 0 1 0 -11.7 0M269.6 649.5a5.85 5.85 0 1 0 11.7 0a5.85 5.85 0 1 0 -11.7 0M625.5 648.9a5.85 5.85 0 1 0 11.7 0a5.85 5.85 0 1 0 -11.7 0M625.5 649.5a5.85 5.85 0 1 0 11.7 0a5.85 5.85 0 1 0 -11.7 0M625.5 649.2a5.85 5.85 0 1 0 11.7 0a5.85 5.85 0 1 0 -11.7 0M628.7 648.9a5.85 5.85 0 1 0 11.7 0a5.85 5.85 0 1 0 -11.7 0M628.7 649.5a5.85 5.85 0 1 0 11.7 0a5.85 5.85 0 1 0 -11.7 0M628.7 649.2a5.85 5.85 0 1 0 11.7 0a5.85 5.85 0 1 0 -11.7 0M631.8 648.9a5.85 5.85 0 1 0 11.7 0a5.85 5.85 0 1 0 -11.7 0M631.8 649.5a5.85 5.85 0 1 0 11.7 0a5.85 5.85 0 1 0 -11.7 0M631.8 649.2a5.85 5.85 0 1 0 11.7 0a5.85 5.85 0 1 0 -11.7 0M635 648.9a5.85 5.85 0 1 0 11.7 0a5.85 5.85 0 1 0 -11.7 0M635 649.5a5.85 5.85 0 1 0 11.7 0a5.85 5.85 0 1 0 -11.7 0M635 649.2a5.85 5.85 0 1 0 11.7 0a5.85 5.85 0 1 0 -11.7 0M638.1 648.7a5.85 5.85 0 1 0 11.7 0a5.85 5.85 0 1 0 -11.7 0M638.1 649.7a5.85 5.85 0 1 0 11.7 0a5.85 5.85 0 1 0 -11.7 0M638.1 649.2a5.85 5.85 0 1 0 11.7 0a5.85 5.85 0 1 0 -11.7 0M641.2 648.5a5.85 5.85 0 1 0 11.7 0a5.85 5.85 0 1 0 -11.7 0M641.2 649.9a5.85 5.85 0 1 0 11.7 0a5.85 5.85 0 1 0 -11.7 0M641.2 649.2a5.85 5.85 0 1 0 11.7 0a5.85 5.85 0 1 0 -11.7 0M644.4 648.2a5.85 5.85 0 1 0 11.7 0a5.85 5.85 0 1 0 -11.7 0M644.4 650.2a5.85 5.85 0 1 0 11.7 0a5.85 5.85 0 1 0 -11.7 0M644.4 649.2a5.85 5.85 0 1 0 11.7 0a5.85 5.85 0 1 0 -11.7 0M647.5 648a5.85 5.85 0 1 0 11.7 0a5.85 5.85 0 1 0 -11.7 0M647.5 650.4a5.85 5.85 0 1 0 11.7 0a5.85 5.85 0 1 0 -11.7 0M647.5 649.2a5.85 5.85 0 1 0 11.7 0a5.85 5.85 0 1 0 -11.7 0M650.7 647.8a5.85 5.85 0 1 0 11.7 0a5.85 5.85 0 1 0 -11.7 0M650.7 650.6a5.85 5.85 0 1 0 11.7 0a5.85 5.85 0 1 0 -11.7 0M650.7 649.2a5.85 5.85 0 1 0 11.7 0a5.85 5.85 0 1 0 -11.7 0M653.8 647.5a5.85 5.85 0 1 0 11.7 0a5.85 5.85 0 1 0 -11.7 0M653.8 650.9a5.85 5.85 0 1 0 11.7 0a5.85 5.85 0 1 0 -11.7 0M653.8 649.2a5.85 5.85 0 1 0 11.7 0a5.85 5.85 0 1 0 -11.7 0M657 647.3a5.85 5.85 0 1 0 11.7 0a5.85 5.85 0 1 0 -11.7 0M657 651.1a5.85 5.85 0 1 0 11.7 0a5.85 5.85 0 1 0 -11.7 0M657 649.2a5.85 5.85 0 1 0 11.7 0a5.85 5.85 0 1 0 -11.7 0M660.1 647.1a5.85 5.85 0 1 0 11.7 0a5.85 5.85 0 1 0 -11.7 0M660.1 651.3a5.85 5.85 0 1 0 11.7 0a5.85 5.85 0 1 0 -11.7 0M660.1 649.2a5.85 5.85 0 1 0 11.7 0a5.85 5.85 0 1 0 -11.7 0M663.3 646.8a5.85 5.85 0 1 0 11.7 0a5.85 5.85 0 1 0 -11.7 0M663.3 651.6a5.85 5.85 0 1 0 11.7 0a5.85 5.85 0 1 0 -11.7 0M663.3 649.2a5.85 5.85 0 1 0 11.7 0a5.85 5.85 0 1 0 -11.7 0M666.4 646.6a5.85 5.85 0 1 0 11.7 0a5.85 5.85 0 1 0 -11.7 0M666.4 651.8a5.85 5.85 0 1 0 11.7 0a5.85 5.85 0 1 0 -11.7 0M666.4 649.2a5.85 5.85 0 1 0 11.7 0a5.85 5.85 0 1 0 -11.7 0M669.6 646.4a5.85 5.85 0 1 0 11.7 0a5.85 5.85 0 1 0 -11.7 0M669.6 652a5.85 5.85 0 1 0 11.7 0a5.85 5.85 0 1 0 -11.7 0M669.6 649.2a5.85 5.85 0 1 0 11.7 0a5.85 5.85 0 1 0 -11.7 0M672.7 646.1a5.85 5.85 0 1 0 11.7 0a5.85 5.85 0 1 0 -11.7 0M672.7 652.3a5.85 5.85 0 1 0 11.7 0a5.85 5.85 0 1 0 -11.7 0M672.7 649.2a5.85 5.85 0 1 0 11.7 0a5.85 5.85 0 1 0 -11.7 0M675.8 645.9a5.85 5.85 0 1 0 11.7 0a5.85 5.85 0 1 0 -11.7 0M675.8 652.5a5.85 5.85 0 1 0 11.7 0a5.85 5.85 0 1 0 -11.7 0M675.8 649.2a5.85 5.85 0 1 0 11.7 0a5.85 5.85 0 1 0 -11.7 0M679 645.6a5.85 5.85 0 1 0 11.7 0a5.85 5.85 0 1 0 -11.7 0M679 652.7a5.85 5.85 0 1 0 11.7 0a5.85 5.85 0 1 0 -11.7 0M679 649.2a5.85 5.85 0 1 0 11.7 0a5.85 5.85 0 1 0 -11.7 0M682.1 645.4a5.85 5.85 0 1 0 11.7 0a5.85 5.85 0 1 0 -11.7 0M682.1 653a5.85 5.85 0 1 0 11.7 0a5.85 5.85 0 1 0 -11.7 0M682.1 649.2a5.85 5.85 0 1 0 11.7 0a5.85 5.85 0 1 0 -11.7 0M685.3 645.2a5.85 5.85 0 1 0 11.7 0a5.85 5.85 0 1 0 -11.7 0M685.3 653.2a5.85 5.85 0 1 0 11.7 0a5.85 5.85 0 1 0 -11.7 0M685.3 649.2a5.85 5.85 0 1 0 11.7 0a5.85 5.85 0 1 0 -11.7 0M688.4 644.9a5.85 5.85 0 1 0 11.7 0a5.85 5.85 0 1 0 -11.7 0M688.4 653.5a5.85 5.85 0 1 0 11.7 0a5.85 5.85 0 1 0 -11.7 0M688.4 649.2a5.85 5.85 0 1 0 11.7 0a5.85 5.85 0 1 0 -11.7 0M691.6 644.7a5.85 5.85 0 1 0 11.7 0a5.85 5.85 0 1 0 -11.7 0M691.6 653.7a5.85 5.85 0 1 0 11.7 0a5.85 5.85 0 1 0 -11.7 0M691.6 649.2a5.85 5.85 0 1 0 11.7 0a5.85 5.85 0 1 0 -11.7 0M694.7 644.5a5.85 5.85 0 1 0 11.7 0a5.85 5.85 0 1 0 -11.7 0M694.7 653.9a5.85 5.85 0 1 0 11.7 0a5.85 5.85 0 1 0 -11.7 0M694.7 649.2a5.85 5.85 0 1 0 11.7 0a5.85 5.85 0 1 0 -11.7 0M697.9 644.2a5.85 5.85 0 1 0 11.7 0a5.85 5.85 0 1 0 -11.7 0M697.9 654.2a5.85 5.85 0 1 0 11.7 0a5.85 5.85 0 1 0 -11.7 0M697.9 649.2a5.85 5.85 0 1 0 11.7 0a5.85 5.85 0 1 0 -11.7 0M789.4 536a5.85 5.85 0 1 0 11.7 0a5.85 5.85 0 1 0 -11.7 0M789.4 558.4a5.85 5.85 0 1 0 11.7 0a5.85 5.85 0 1 0 -11.7 0M789.4 634.1a5.85 5.85 0 1 0 11.7 0a5.85 5.85 0 1 0 -11.7 0M789.4 703a5.85 5.85 0 1 0 11.7 0a5.85 5.85 0 1 0 -11.7 0M789.4 736.8a5.85 5.85 0 1 0 11.7 0a5.85 5.85 0 1 0 -11.7 0M805.3 595a5.85 5.85 0 1 0 11.7 0a5.85 5.85 0 1 0 -11.7 0M805.3 615.5a5.85 5.85 0 1 0 11.7 0a5.85 5.85 0 1 0 -11.7 0M805.3 650.2a5.85 5.85 0 1 0 11.7 0a5.85 5.85 0 1 0 -11.7 0M805.3 683.1a5.85 5.85 0 1 0 11.7 0a5.85 5.85 0 1 0 -11.7 0M805.3 686.5a5.85 5.85 0 1 0 11.7 0a5.85 5.85 0 1 0 -11.7 0M805.3 702.2a5.85 5.85 0 1 0 11.7 0a5.85 5.85 0 1 0 -11.7 0M821.2 620.5a5.85 5.85 0 1 0 11.7 0a5.85 5.85 0 1 0 -11.7 0M821.2 630.7a5.85 5.85 0 1 0 11.7 0a5.85 5.85 0 1 0 -11.7 0M821.2 650a5.85 5.85 0 1 0 11.7 0a5.85 5.85 0 1 0 -11.7 0M821.2 667a5.85 5.85 0 1 0 11.7 0a5.85 5.85 0 1 0 -11.7 0M821.2 676a5.85 5.85 0 1 0 11.7 0a5.85 5.85 0 1 0 -11.7 0M837.2 633.8a5.85 5.85 0 1 0 11.7 0a5.85 5.85 0 1 0 -11.7 0M837.2 640.1a5.85 5.85 0 1 0 11.7 0a5.85 5.85 0 1 0 -11.7 0M837.2 649.4a5.85 5.85 0 1 0 11.7 0a5.85 5.85 0 1 0 -11.7 0M837.2 658.8a5.85 5.85 0 1 0 11.7 0a5.85 5.85 0 1 0 -11.7 0M837.2 665.1a5.85 5.85 0 1 0 11.7 0a5.85 5.85 0 1 0 -11.7 0M853.1 640.8a5.85 5.85 0 1 0 11.7 0a5.85 5.85 0 1 0 -11.7 0M853.1 645.2a5.85 5.85 0 1 0 11.7 0a5.85 5.85 0 1 0 -11.7 0M853.1 649.4a5.85 5.85 0 1 0 11.7 0a5.85 5.85 0 1 0 -11.7 0M853.1 653.4a5.85 5.85 0 1 0 11.7 0a5.85 5.85 0 1 0 -11.7 0M853.1 658a5.85 5.85 0 1 0 11.7 0a5.85 5.85 0 1 0 -11.7 0M869.1 645.1a5.85 5.85 0 1 0 11.7 0a5.85 5.85 0 1 0 -11.7 0M869.1 649.3a5.85 5.85 0 1 0 11.7 0a5.85 5.85 0 1 0 -11.7 0M869.1 653.4a5.85 5.85 0 1 0 11.7 0a5.85 5.85 0 1 0 -11.7 0M885 647.3a5.85 5.85 0 1 0 11.7 0a5.85 5.85 0 1 0 -11.7 0M885 649.5a5.85 5.85 0 1 0 11.7 0a5.85 5.85 0 1 0 -11.7 0M885 651.8a5.85 5.85 0 1 0 11.7 0a5.85 5.85 0 1 0 -11.7 0M900.9 648.3a5.85 5.85 0 1 0 11.7 0a5.85 5.85 0 1 0 -11.7 0M900.9 650.8a5.85 5.85 0 1 0 11.7 0a5.85 5.85 0 1 0 -11.7 0M916.9 649.2a5.85 5.85 0 1 0 11.7 0a5.85 5.85 0 1 0 -11.7 0M916.9 650.4a5.85 5.85 0 1 0 11.7 0a5.85 5.85 0 1 0 -11.7 0M932.8 649.5a5.85 5.85 0 1 0 11.7 0a5.85 5.85 0 1 0 -11.7 0M948.8 649.5a5.85 5.85 0 1 0 11.7 0a5.85 5.85 0 1 0 -11.7 0M964.7 649.5a5.85 5.85 0 1 0 11.7 0a5.85 5.85 0 1 0 -11.7 0M980.6 649.5a5.85 5.85 0 1 0 11.7 0a5.85 5.85 0 1 0 -11.7 0M996.6 649.5a5.85 5.85 0 1 0 11.7 0a5.85 5.85 0 1 0 -11.7 0M1012.5 649.5a5.85 5.85 0 1 0 11.7 0a5.85 5.85 0 1 0 -11.7 0M1028.5 649.5a5.85 5.85 0 1 0 11.7 0a5.85 5.85 0 1 0 -11.7 0M1171.9 536a5.85 5.85 0 1 0 11.7 0a5.85 5.85 0 1 0 -11.7 0M1171.9 558.4a5.85 5.85 0 1 0 11.7 0a5.85 5.85 0 1 0 -11.7 0M1171.9 634.1a5.85 5.85 0 1 0 11.7 0a5.85 5.85 0 1 0 -11.7 0M1171.9 703a5.85 5.85 0 1 0 11.7 0a5.85 5.85 0 1 0 -11.7 0M1171.9 736.8a5.85 5.85 0 1 0 11.7 0a5.85 5.85 0 1 0 -11.7 0M1156 595a5.85 5.85 0 1 0 11.7 0a5.85 5.85 0 1 0 -11.7 0M1156 615.5a5.85 5.85 0 1 0 11.7 0a5.85 5.85 0 1 0 -11.7 0M1156 650.2a5.85 5.85 0 1 0 11.7 0a5.85 5.85 0 1 0 -11.7 0M1156 683.1a5.85 5.85 0 1 0 11.7 0a5.85 5.85 0 1 0 -11.7 0M1156 686.5a5.85 5.85 0 1 0 11.7 0a5.85 5.85 0 1 0 -11.7 0M1156 702.2a5.85 5.85 0 1 0 11.7 0a5.85 5.85 0 1 0 -11.7 0M1140 620.5a5.85 5.85 0 1 0 11.7 0a5.85 5.85 0 1 0 -11.7 0M1140 630.7a5.85 5.85 0 1 0 11.7 0a5.85 5.85 0 1 0 -11.7 0M1140 650a5.85 5.85 0 1 0 11.7 0a5.85 5.85 0 1 0 -11.7 0M1140 667a5.85 5.85 0 1 0 11.7 0a5.85 5.85 0 1 0 -11.7 0M1140 676a5.85 5.85 0 1 0 11.7 0a5.85 5.85 0 1 0 -11.7 0M1124.1 633.8a5.85 5.85 0 1 0 11.7 0a5.85 5.85 0 1 0 -11.7 0M1124.1 640.1a5.85 5.85 0 1 0 11.7 0a5.85 5.85 0 1 0 -11.7 0M1124.1 649.4a5.85 5.85 0 1 0 11.7 0a5.85 5.85 0 1 0 -11.7 0M1124.1 658.8a5.85 5.85 0 1 0 11.7 0a5.85 5.85 0 1 0 -11.7 0M1124.1 665.1a5.85 5.85 0 1 0 11.7 0a5.85 5.85 0 1 0 -11.7 0M1108.2 640.8a5.85 5.85 0 1 0 11.7 0a5.85 5.85 0 1 0 -11.7 0M1108.2 645.2a5.85 5.85 0 1 0 11.7 0a5.85 5.85 0 1 0 -11.7 0M1108.2 649.4a5.85 5.85 0 1 0 11.7 0a5.85 5.85 0 1 0 -11.7 0M1108.2 653.4a5.85 5.85 0 1 0 11.7 0a5.85 5.85 0 1 0 -11.7 0M1108.2 658a5.85 5.85 0 1 0 11.7 0a5.85 5.85 0 1 0 -11.7 0M1092.2 645.1a5.85 5.85 0 1 0 11.7 0a5.85 5.85 0 1 0 -11.7 0M1092.2 649.3a5.85 5.85 0 1 0 11.7 0a5.85 5.85 0 1 0 -11.7 0M1092.2 653.4a5.85 5.85 0 1 0 11.7 0a5.85 5.85 0 1 0 -11.7 0M1076.3 647.3a5.85 5.85 0 1 0 11.7 0a5.85 5.85 0 1 0 -11.7 0M1076.3 649.5a5.85 5.85 0 1 0 11.7 0a5.85 5.85 0 1 0 -11.7 0M1076.3 651.8a5.85 5.85 0 1 0 11.7 0a5.85 5.85 0 1 0 -11.7 0M1060.3 648.3a5.85 5.85 0 1 0 11.7 0a5.85 5.85 0 1 0 -11.7 0M1060.3 650.8a5.85 5.85 0 1 0 11.7 0a5.85 5.85 0 1 0 -11.7 0M1044.4 649.2a5.85 5.85 0 1 0 11.7 0a5.85 5.85 0 1 0 -11.7 0M1044.4 650.4a5.85 5.85 0 1 0 11.7 0a5.85 5.85 0 1 0 -11.7 0" fill="#7221bc"/>
<rect x="133.3" y="481.4" width="1053.1" height="336.6" fill="none" stroke="#000" stroke-width="1.8"/>
<path d="M214.9 818V807M296.6 818V796M378.2 818V807M459.9 818V796M541.5 818V807M623.2 818V796M704.8 818V807M786.5 818V796M868.1 818V807M949.8 818V796M1031.4 818V807M1113.1 818V796M133.3 784.4H144.1M133.3 750.7H156.9M133.3 717H144.1M133.3 683.4H156.9M133.3 649.7H144.1M133.3 616.1H156.9M133.3 582.4H144.1M133.3 548.7H156.9M133.3 515.1H144.1M1186.4 790H1175.4M1186.4 761.9H1165.1M1186.4 733.9H1175.4M1186.4 705.8H1165.1M1186.4 677.8H1175.4M1186.4 649.7H1165.1M1186.4 621.7H1175.4M1186.4 593.6H1165.1M1186.4 565.6H1175.4M1186.4 537.5H1165.1M1186.4 509.5H1175.4" stroke="#000" stroke-width="1.8" fill="none"/>
<rect x="238.6" y="512.4" width="303.2" height="81" fill="#fff" stroke="#000" stroke-width="1.8"/>
<path d="M266.4 535.8a5.6 5.6 0 1 0 11.2 0a5.6 5.6 0 1 0 -11.2 0" fill="none" stroke="#ff0000" stroke-width="3.0"/>
<line x1="249.3" y1="570.9" x2="294.7" y2="570.9" stroke="#000" stroke-width="4.3"/>
<text x="313.4" y="547" font-size="35.5" text-anchor="start" >simulation data</text>
<text x="314.4" y="582" font-size="35.5" text-anchor="start" >model function</text>
<rect x="870" y="733.8" width="279.1" height="46.1" fill="#fff" stroke="#000" stroke-width="1.8"/>
<path d="M895.9 756.7a5.85 5.85 0 1 0 11.7 0a5.85 5.85 0 1 0 -11.7 0" fill="#7221bc"/>
<text x="938.8" y="768.3" font-size="35.5" text-anchor="start" >corrected data</text>
<text x="0" y="0" font-size="42" transform="translate(469,795.5) scale(1,1.08)">y</text>
<text x="490.1" y="780.9" font-size="32" text-anchor="start" >ref.</text>
<text x="490.6" y="812.9" font-size="32" text-anchor="start" >B</text>
<text class="sans" x="2" y="485.8" font-size="42">(b<tspan dx="2.4">)</tspan></text>
<text x="124.5" y="830.6" font-size="36.5" text-anchor="end" >-20</text>
<text x="124.5" y="763.3" font-size="36.5" text-anchor="end" >0</text>
<text x="124.5" y="696" font-size="36.5" text-anchor="end" >20</text>
<text x="124.5" y="628.7" font-size="36.5" text-anchor="end" >40</text>
<text x="124.5" y="561.3" font-size="36.5" text-anchor="end" >60</text>
<text x="124.5" y="494" font-size="36.5" text-anchor="end" >80</text>
<text x="133.3" y="853.3" font-size="36.5" text-anchor="middle" >0</text>
<text x="296.6" y="853.3" font-size="36.5" text-anchor="middle" >20</text>
<text x="459.9" y="853.3" font-size="36.5" text-anchor="middle" >40</text>
<text x="623.2" y="853.3" font-size="36.5" text-anchor="middle" >60</text>
<text x="786.5" y="853.3" font-size="36.5" text-anchor="middle" >80</text>
<text x="949.8" y="853.3" font-size="36.5" text-anchor="middle" >100</text>
<text x="1113.1" y="853.3" font-size="36.5" text-anchor="middle" >120</text>
<text x="1196.7" y="830.6" font-size="36.5" text-anchor="start" >-30</text>
<text x="1196.7" y="774.5" font-size="36.5" text-anchor="start" >-20</text>
<text x="1196.7" y="718.4" font-size="36.5" text-anchor="start" >-10</text>
<text x="1196.7" y="662.3" font-size="36.5" text-anchor="start" >0</text>
<text x="1196.7" y="606.2" font-size="36.5" text-anchor="start" >10</text>
<text x="1196.7" y="550.1" font-size="36.5" text-anchor="start" >20</text>
<text x="1196.7" y="494" font-size="36.5" text-anchor="start" >30</text>
<text x="659.9" y="896.3" font-size="35.5" text-anchor="middle" >Coordinate y (Å)</text>
<text x="0" y="0" font-size="35" text-anchor="middle" transform="translate(51.4,645) rotate(-90)">ΔE<tspan font-size="25" dy="13.7">f</tspan><tspan dy="-13.7"> (eV)</tspan></text>
<text x="0" y="0" font-size="35" text-anchor="middle" transform="translate(1279.6,645) rotate(-90)">ΔE<tspan font-size="25" dy="13.7">f</tspan><tspan dy="-13.7"> (eV)</tspan></text>
</svg></body></html>
